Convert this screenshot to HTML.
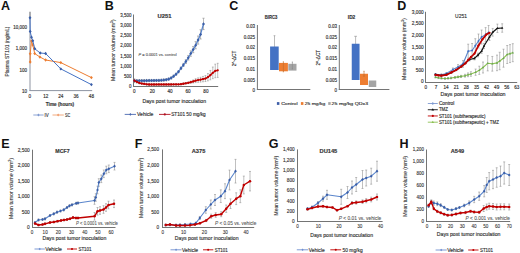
<!DOCTYPE html>
<html><head><meta charset="utf-8"><style>
html,body{margin:0;padding:0;background:#fff;}
body{width:520px;height:253px;overflow:hidden;}
svg{display:block;font-family:"Liberation Sans",sans-serif;}
</style></head><body>
<svg width="520" height="253" viewBox="0 0 520 253" fill="#333333">
<rect width="520" height="253" fill="#fff"/>
<text x="1.09" y="9.8" font-size="12.5" font-weight="bold" fill="#111">A</text>
<line x1="30" y1="11.8" x2="30" y2="91" stroke="#8e94a2" stroke-width="1"/>
<line x1="29.5" y1="90.6" x2="92.2" y2="90.6" stroke="#8e94a2" stroke-width="1"/>
<text x="13.24" y="29.23" font-size="4.5" stroke="#333333" stroke-width="0.15">10,000</text>
<text x="15.74" y="50.44" font-size="4.5" stroke="#333333" stroke-width="0.15">1,000</text>
<text x="19.49" y="71.53" font-size="4.5" stroke="#333333" stroke-width="0.15">100</text>
<text x="21.99" y="92.64" font-size="4.5" stroke="#333333" stroke-width="0.15">10</text>
<text x="28.52" y="98.18" font-size="4.6" stroke="#333333" stroke-width="0.15">0</text>
<text x="43.24" y="98.18" font-size="4.6" stroke="#333333" stroke-width="0.15">12</text>
<text x="58.14" y="98.18" font-size="4.6" stroke="#333333" stroke-width="0.15">24</text>
<text x="73.54" y="98.18" font-size="4.6" stroke="#333333" stroke-width="0.15">36</text>
<text x="88.84" y="98.18" font-size="4.6" stroke="#333333" stroke-width="0.15">48</text>
<text x="45.8" y="106.35" font-size="5" textLength="28.4" lengthAdjust="spacingAndGlyphs" font-weight="bold" stroke="#333333" stroke-width="0.15">Time (hours)</text>
<text x="-25" y="1.69" font-size="4.7" textLength="50" lengthAdjust="spacingAndGlyphs" stroke="#333333" stroke-width="0.12" transform="translate(6.8 51.5) rotate(-90)">Plasma ST101 (ng/mL)</text>
<line x1="30" y1="11.8" x2="30" y2="17.8" stroke="#8c8c8c" stroke-width="0.9"/>
<polyline points="30.2,62 30.2,53.7 31.5,41 32.8,45 34.7,53.5 39.9,57 45.6,60 60.8,62.6 91.4,77.6" fill="none" stroke="#ed7d31" stroke-width="1" stroke-linejoin="round"/>
<path d="M30.2 60.31l1.43 1.69l-1.43 1.69l-1.43 -1.69z" fill="#ed7d31"/>
<path d="M30.2 52.01l1.43 1.69l-1.43 1.69l-1.43 -1.69z" fill="#ed7d31"/>
<path d="M31.5 39.31l1.43 1.69l-1.43 1.69l-1.43 -1.69z" fill="#ed7d31"/>
<path d="M32.8 43.31l1.43 1.69l-1.43 1.69l-1.43 -1.69z" fill="#ed7d31"/>
<path d="M34.7 51.81l1.43 1.69l-1.43 1.69l-1.43 -1.69z" fill="#ed7d31"/>
<path d="M39.9 55.31l1.43 1.69l-1.43 1.69l-1.43 -1.69z" fill="#ed7d31"/>
<path d="M45.6 58.31l1.43 1.69l-1.43 1.69l-1.43 -1.69z" fill="#ed7d31"/>
<path d="M60.8 60.91l1.43 1.69l-1.43 1.69l-1.43 -1.69z" fill="#ed7d31"/>
<path d="M91.4 75.91l1.43 1.69l-1.43 1.69l-1.43 -1.69z" fill="#ed7d31"/>
<polyline points="30,17.8 30.2,31.5 31.5,37.3 32.8,40.8 34.8,48.8 40.2,53 45.6,53.5 60.8,68.9 91.4,84.6" fill="none" stroke="#4472c4" stroke-width="1" stroke-linejoin="round"/>
<path d="M30 16.11l1.43 1.69l-1.43 1.69l-1.43 -1.69z" fill="#3a5ea8"/>
<path d="M30.2 29.81l1.43 1.69l-1.43 1.69l-1.43 -1.69z" fill="#3a5ea8"/>
<path d="M31.5 35.61l1.43 1.69l-1.43 1.69l-1.43 -1.69z" fill="#3a5ea8"/>
<path d="M32.8 39.11l1.43 1.69l-1.43 1.69l-1.43 -1.69z" fill="#3a5ea8"/>
<path d="M34.8 47.11l1.43 1.69l-1.43 1.69l-1.43 -1.69z" fill="#3a5ea8"/>
<path d="M40.2 51.31l1.43 1.69l-1.43 1.69l-1.43 -1.69z" fill="#3a5ea8"/>
<path d="M45.6 51.81l1.43 1.69l-1.43 1.69l-1.43 -1.69z" fill="#3a5ea8"/>
<path d="M60.8 67.21l1.43 1.69l-1.43 1.69l-1.43 -1.69z" fill="#3a5ea8"/>
<path d="M91.4 82.91l1.43 1.69l-1.43 1.69l-1.43 -1.69z" fill="#3a5ea8"/>
<line x1="33.3" y1="115" x2="43.6" y2="115" stroke="#7f9ad0" stroke-width="0.9"/>
<path d="M38.45 113.57l1.21 1.43l-1.21 1.43l-1.21 -1.43z" fill="#7f9ad0"/>
<text x="44.6" y="117.06" font-size="4.8" textLength="4.2" lengthAdjust="spacingAndGlyphs" stroke="#333333" stroke-width="0.15">IV</text>
<line x1="52.5" y1="115" x2="63.8" y2="115" stroke="#f0a070" stroke-width="0.9"/>
<path d="M58.15 113.57l1.21 1.43l-1.21 1.43l-1.21 -1.43z" fill="#f0a070"/>
<text x="65" y="117.06" font-size="4.8" textLength="5.2" lengthAdjust="spacingAndGlyphs" stroke="#333333" stroke-width="0.15">SC</text>
<text x="104.76" y="9.8" font-size="12.5" font-weight="bold" fill="#111">B</text>
<line x1="133.5" y1="14.5" x2="133.5" y2="87" stroke="#747474" stroke-width="1"/>
<line x1="133" y1="86.5" x2="218.2" y2="86.5" stroke="#747474" stroke-width="1"/>
<text x="129.03" y="88.21" font-size="4.45" stroke="#333333" stroke-width="0.15">0</text>
<text x="124.08" y="77.98" font-size="4.45" stroke="#333333" stroke-width="0.15">500</text>
<text x="120.36" y="67.76" font-size="4.45" stroke="#333333" stroke-width="0.15">1,000</text>
<text x="120.36" y="57.53" font-size="4.45" stroke="#333333" stroke-width="0.15">1,500</text>
<text x="120.36" y="47.3" font-size="4.45" stroke="#333333" stroke-width="0.15">2,000</text>
<text x="120.36" y="37.07" font-size="4.45" stroke="#333333" stroke-width="0.15">2,500</text>
<text x="120.36" y="26.84" font-size="4.45" stroke="#333333" stroke-width="0.15">3,000</text>
<text x="120.36" y="16.61" font-size="4.45" stroke="#333333" stroke-width="0.15">3,500</text>
<text x="133.02" y="93.28" font-size="4.6" stroke="#333333" stroke-width="0.15">0</text>
<text x="149.64" y="93.28" font-size="4.6" stroke="#333333" stroke-width="0.15">20</text>
<text x="167.54" y="93.28" font-size="4.6" stroke="#333333" stroke-width="0.15">40</text>
<text x="185.44" y="93.28" font-size="4.6" stroke="#333333" stroke-width="0.15">60</text>
<text x="203.34" y="93.28" font-size="4.6" stroke="#333333" stroke-width="0.15">80</text>
<text x="142.55" y="102.99" font-size="5.1" textLength="63.5" lengthAdjust="spacingAndGlyphs" stroke="#333333" stroke-width="0.15">Days post tumor inoculation</text>
<text x="-30.75" y="1.8" font-size="5" textLength="61.5" lengthAdjust="spacingAndGlyphs" stroke="#333333" stroke-width="0.1" transform="translate(112.8 50.2) rotate(-90)">Mean tumor volume (mm<tspan font-size="0.6em" dy="-1.7">3</tspan><tspan dy="1.7">)</tspan></text>
<text x="157.55" y="18.31" font-size="5.6" textLength="13.9" lengthAdjust="spacingAndGlyphs" font-weight="bold" stroke="#333333" stroke-width="0.15">U251</text>
<text x="138.6" y="56.13" font-size="3.8" textLength="38" lengthAdjust="spacingAndGlyphs" fill="#555555" stroke="#555555" stroke-width="0.1"><tspan font-style="italic">P</tspan> = 0.0001 vs. control</text>
<path d="M134.4 79.7V81.7M133.3 79.7h2.2M133.3 81.7h2.2" stroke="#8c8c8c" stroke-width="0.6" fill="none"/>
<path d="M136.85 79.68V81.68M135.75 79.68h2.2M135.75 81.68h2.2" stroke="#8c8c8c" stroke-width="0.6" fill="none"/>
<path d="M139.3 79.67V81.67M138.2 79.67h2.2M138.2 81.67h2.2" stroke="#8c8c8c" stroke-width="0.6" fill="none"/>
<path d="M141.75 79.65V81.65M140.65 79.65h2.2M140.65 81.65h2.2" stroke="#8c8c8c" stroke-width="0.6" fill="none"/>
<path d="M144.2 79.64V81.64M143.1 79.64h2.2M143.1 81.64h2.2" stroke="#8c8c8c" stroke-width="0.6" fill="none"/>
<path d="M146.65 79.62V81.62M145.55 79.62h2.2M145.55 81.62h2.2" stroke="#8c8c8c" stroke-width="0.6" fill="none"/>
<path d="M149.1 79.61V81.61M148 79.61h2.2M148 81.61h2.2" stroke="#8c8c8c" stroke-width="0.6" fill="none"/>
<path d="M151.55 79.57V81.57M150.45 79.57h2.2M150.45 81.57h2.2" stroke="#8c8c8c" stroke-width="0.6" fill="none"/>
<path d="M154 79.52V81.52M152.9 79.52h2.2M152.9 81.52h2.2" stroke="#8c8c8c" stroke-width="0.6" fill="none"/>
<path d="M156.45 79.47V81.47M155.35 79.47h2.2M155.35 81.47h2.2" stroke="#8c8c8c" stroke-width="0.6" fill="none"/>
<path d="M158.9 79.42V81.42M157.8 79.42h2.2M157.8 81.42h2.2" stroke="#8c8c8c" stroke-width="0.6" fill="none"/>
<path d="M161.35 79.29V81.29M160.25 79.29h2.2M160.25 81.29h2.2" stroke="#8c8c8c" stroke-width="0.6" fill="none"/>
<path d="M163.8 79.1V81.1M162.7 79.1h2.2M162.7 81.1h2.2" stroke="#8c8c8c" stroke-width="0.6" fill="none"/>
<path d="M166.25 78.7V80.7M165.15 78.7h2.2M165.15 80.7h2.2" stroke="#8c8c8c" stroke-width="0.6" fill="none"/>
<path d="M168.7 78.11V80.11M167.6 78.11h2.2M167.6 80.11h2.2" stroke="#8c8c8c" stroke-width="0.6" fill="none"/>
<path d="M171.15 76.95V78.95M170.05 76.95h2.2M170.05 78.95h2.2" stroke="#8c8c8c" stroke-width="0.6" fill="none"/>
<path d="M173.6 75.13V77.13M172.5 75.13h2.2M172.5 77.13h2.2" stroke="#8c8c8c" stroke-width="0.6" fill="none"/>
<path d="M176.05 73.24V75.24M174.95 73.24h2.2M174.95 75.24h2.2" stroke="#8c8c8c" stroke-width="0.6" fill="none"/>
<path d="M178.5 70.72V72.72M177.4 70.72h2.2M177.4 72.72h2.2" stroke="#8c8c8c" stroke-width="0.6" fill="none"/>
<path d="M180.95 67.1V69.57M179.85 67.1h2.2M179.85 69.57h2.2" stroke="#8c8c8c" stroke-width="0.6" fill="none"/>
<path d="M183.4 63.36V66.51M182.3 63.36h2.2M182.3 66.51h2.2" stroke="#8c8c8c" stroke-width="0.6" fill="none"/>
<path d="M185.85 59.7V63.52M184.75 59.7h2.2M184.75 63.52h2.2" stroke="#8c8c8c" stroke-width="0.6" fill="none"/>
<path d="M188.3 55.44V60.04M187.2 55.44h2.2M187.2 60.04h2.2" stroke="#8c8c8c" stroke-width="0.6" fill="none"/>
<path d="M190.75 50.87V56.3M189.65 50.87h2.2M189.65 56.3h2.2" stroke="#8c8c8c" stroke-width="0.6" fill="none"/>
<path d="M193.2 46.47V52.69M192.1 46.47h2.2M192.1 52.69h2.2" stroke="#8c8c8c" stroke-width="0.6" fill="none"/>
<path d="M195.65 41.65V48.75M194.55 41.65h2.2M194.55 48.75h2.2" stroke="#8c8c8c" stroke-width="0.6" fill="none"/>
<path d="M198.1 36.02V44.14M197 36.02h2.2M197 44.14h2.2" stroke="#8c8c8c" stroke-width="0.6" fill="none"/>
<path d="M200.55 29.74V39.01M199.45 29.74h2.2M199.45 39.01h2.2" stroke="#8c8c8c" stroke-width="0.6" fill="none"/>
<path d="M203.5 18.22V29.58M202.4 18.22h2.2M202.4 29.58h2.2" stroke="#8c8c8c" stroke-width="0.6" fill="none"/>
<path d="M134.4 78.8V82.6M133.5 78.8h1.8M133.5 82.6h1.8" stroke="#8c8c8c" stroke-width="0.55" fill="none"/>
<path d="M136.85 80.51V83.17M135.95 80.51h1.8M135.95 83.17h1.8" stroke="#8c8c8c" stroke-width="0.55" fill="none"/>
<path d="M139.3 82.18V83.78M138.4 82.18h1.8M138.4 83.78h1.8" stroke="#8c8c8c" stroke-width="0.55" fill="none"/>
<path d="M141.75 82.76V84.36M140.85 82.76h1.8M140.85 84.36h1.8" stroke="#8c8c8c" stroke-width="0.55" fill="none"/>
<path d="M144.2 83.13V84.73M143.3 83.13h1.8M143.3 84.73h1.8" stroke="#8c8c8c" stroke-width="0.55" fill="none"/>
<path d="M146.65 83.5V85.1M145.75 83.5h1.8M145.75 85.1h1.8" stroke="#8c8c8c" stroke-width="0.55" fill="none"/>
<path d="M149.1 83.7V85.3M148.2 83.7h1.8M148.2 85.3h1.8" stroke="#8c8c8c" stroke-width="0.55" fill="none"/>
<path d="M151.55 83.69V85.29M150.65 83.69h1.8M150.65 85.29h1.8" stroke="#8c8c8c" stroke-width="0.55" fill="none"/>
<path d="M154 83.68V85.28M153.1 83.68h1.8M153.1 85.28h1.8" stroke="#8c8c8c" stroke-width="0.55" fill="none"/>
<path d="M156.45 83.67V85.27M155.55 83.67h1.8M155.55 85.27h1.8" stroke="#8c8c8c" stroke-width="0.55" fill="none"/>
<path d="M158.9 83.67V85.27M158 83.67h1.8M158 85.27h1.8" stroke="#8c8c8c" stroke-width="0.55" fill="none"/>
<path d="M161.35 83.66V85.26M160.45 83.66h1.8M160.45 85.26h1.8" stroke="#8c8c8c" stroke-width="0.55" fill="none"/>
<path d="M163.8 83.65V85.25M162.9 83.65h1.8M162.9 85.25h1.8" stroke="#8c8c8c" stroke-width="0.55" fill="none"/>
<path d="M166.25 83.64V85.24M165.35 83.64h1.8M165.35 85.24h1.8" stroke="#8c8c8c" stroke-width="0.55" fill="none"/>
<path d="M168.7 83.64V85.24M167.8 83.64h1.8M167.8 85.24h1.8" stroke="#8c8c8c" stroke-width="0.55" fill="none"/>
<path d="M171.15 83.63V85.23M170.25 83.63h1.8M170.25 85.23h1.8" stroke="#8c8c8c" stroke-width="0.55" fill="none"/>
<path d="M173.6 83.62V85.22M172.7 83.62h1.8M172.7 85.22h1.8" stroke="#8c8c8c" stroke-width="0.55" fill="none"/>
<path d="M176.05 83.61V85.21M175.15 83.61h1.8M175.15 85.21h1.8" stroke="#8c8c8c" stroke-width="0.55" fill="none"/>
<path d="M178.5 83.6V85.2M177.6 83.6h1.8M177.6 85.2h1.8" stroke="#8c8c8c" stroke-width="0.55" fill="none"/>
<path d="M180.95 83.42V85.02M180.05 83.42h1.8M180.05 85.02h1.8" stroke="#8c8c8c" stroke-width="0.55" fill="none"/>
<path d="M183.4 82.97V84.57M182.5 82.97h1.8M182.5 84.57h1.8" stroke="#8c8c8c" stroke-width="0.55" fill="none"/>
<path d="M185.85 82.51V84.11M184.95 82.51h1.8M184.95 84.11h1.8" stroke="#8c8c8c" stroke-width="0.55" fill="none"/>
<path d="M188.3 81.93V83.64M187.4 81.93h1.8M187.4 83.64h1.8" stroke="#8c8c8c" stroke-width="0.55" fill="none"/>
<path d="M190.75 81.05V83.35M189.85 81.05h1.8M189.85 83.35h1.8" stroke="#8c8c8c" stroke-width="0.55" fill="none"/>
<path d="M193.2 79.95V82.98M192.3 79.95h1.8M192.3 82.98h1.8" stroke="#8c8c8c" stroke-width="0.55" fill="none"/>
<path d="M195.65 78.73V82.58M194.75 78.73h1.8M194.75 82.58h1.8" stroke="#8c8c8c" stroke-width="0.55" fill="none"/>
<path d="M198.1 77.91V82.3M197.2 77.91h1.8M197.2 82.3h1.8" stroke="#8c8c8c" stroke-width="0.55" fill="none"/>
<path d="M200.55 77.27V82.09M199.65 77.27h1.8M199.65 82.09h1.8" stroke="#8c8c8c" stroke-width="0.55" fill="none"/>
<path d="M203 76.43V81.81M202.1 76.43h1.8M202.1 81.81h1.8" stroke="#8c8c8c" stroke-width="0.55" fill="none"/>
<path d="M205.45 75.55V81.52M204.55 75.55h1.8M204.55 81.52h1.8" stroke="#8c8c8c" stroke-width="0.55" fill="none"/>
<path d="M207.9 73.54V80.85M207 73.54h1.8M207 80.85h1.8" stroke="#8c8c8c" stroke-width="0.55" fill="none"/>
<path d="M210.35 70.47V79.82M209.45 70.47h1.8M209.45 79.82h1.8" stroke="#8c8c8c" stroke-width="0.55" fill="none"/>
<path d="M212.8 67V78.67M211.9 67h1.8M211.9 78.67h1.8" stroke="#8c8c8c" stroke-width="0.55" fill="none"/>
<path d="M215.25 64.16V77.72M214.35 64.16h1.8M214.35 77.72h1.8" stroke="#8c8c8c" stroke-width="0.55" fill="none"/>
<path d="M217.7 63.3V77.44M216.8 63.3h1.8M216.8 77.44h1.8" stroke="#8c8c8c" stroke-width="0.55" fill="none"/>
<polyline points="134.4,80.7 136.85,80.68 139.3,80.67 141.75,80.65 144.2,80.64 146.65,80.62 149.1,80.61 151.55,80.57 154,80.52 156.45,80.47 158.9,80.42 161.35,80.29 163.8,80.1 166.25,79.7 168.7,79.11 171.15,77.95 173.6,76.13 176.05,74.24 178.5,71.72 180.95,68.34 183.4,64.93 185.85,61.61 188.3,57.74 190.75,53.58 193.2,49.58 195.65,45.2 198.1,40.08 200.55,34.37 203.5,23.9" fill="none" stroke="#5b86cc" stroke-width="1.3" stroke-linejoin="round"/>
<path d="M134.4 78.95l1.49 1.76l-1.49 1.76l-1.49 -1.76z" fill="#3a5ea8"/>
<path d="M136.85 78.93l1.49 1.76l-1.49 1.76l-1.49 -1.76z" fill="#3a5ea8"/>
<path d="M139.3 78.91l1.49 1.76l-1.49 1.76l-1.49 -1.76z" fill="#3a5ea8"/>
<path d="M141.75 78.9l1.49 1.76l-1.49 1.76l-1.49 -1.76z" fill="#3a5ea8"/>
<path d="M144.2 78.88l1.49 1.76l-1.49 1.76l-1.49 -1.76z" fill="#3a5ea8"/>
<path d="M146.65 78.87l1.49 1.76l-1.49 1.76l-1.49 -1.76z" fill="#3a5ea8"/>
<path d="M149.1 78.85l1.49 1.76l-1.49 1.76l-1.49 -1.76z" fill="#3a5ea8"/>
<path d="M151.55 78.81l1.49 1.76l-1.49 1.76l-1.49 -1.76z" fill="#3a5ea8"/>
<path d="M154 78.77l1.49 1.76l-1.49 1.76l-1.49 -1.76z" fill="#3a5ea8"/>
<path d="M156.45 78.72l1.49 1.76l-1.49 1.76l-1.49 -1.76z" fill="#3a5ea8"/>
<path d="M158.9 78.67l1.49 1.76l-1.49 1.76l-1.49 -1.76z" fill="#3a5ea8"/>
<path d="M161.35 78.54l1.49 1.76l-1.49 1.76l-1.49 -1.76z" fill="#3a5ea8"/>
<path d="M163.8 78.34l1.49 1.76l-1.49 1.76l-1.49 -1.76z" fill="#3a5ea8"/>
<path d="M166.25 77.95l1.49 1.76l-1.49 1.76l-1.49 -1.76z" fill="#3a5ea8"/>
<path d="M168.7 77.36l1.49 1.76l-1.49 1.76l-1.49 -1.76z" fill="#3a5ea8"/>
<path d="M171.15 76.19l1.49 1.76l-1.49 1.76l-1.49 -1.76z" fill="#3a5ea8"/>
<path d="M173.6 74.38l1.49 1.76l-1.49 1.76l-1.49 -1.76z" fill="#3a5ea8"/>
<path d="M176.05 72.49l1.49 1.76l-1.49 1.76l-1.49 -1.76z" fill="#3a5ea8"/>
<path d="M178.5 69.96l1.49 1.76l-1.49 1.76l-1.49 -1.76z" fill="#3a5ea8"/>
<path d="M180.95 66.58l1.49 1.76l-1.49 1.76l-1.49 -1.76z" fill="#3a5ea8"/>
<path d="M183.4 63.18l1.49 1.76l-1.49 1.76l-1.49 -1.76z" fill="#3a5ea8"/>
<path d="M185.85 59.85l1.49 1.76l-1.49 1.76l-1.49 -1.76z" fill="#3a5ea8"/>
<path d="M188.3 55.98l1.49 1.76l-1.49 1.76l-1.49 -1.76z" fill="#3a5ea8"/>
<path d="M190.75 51.83l1.49 1.76l-1.49 1.76l-1.49 -1.76z" fill="#3a5ea8"/>
<path d="M193.2 47.82l1.49 1.76l-1.49 1.76l-1.49 -1.76z" fill="#3a5ea8"/>
<path d="M195.65 43.44l1.49 1.76l-1.49 1.76l-1.49 -1.76z" fill="#3a5ea8"/>
<path d="M198.1 38.32l1.49 1.76l-1.49 1.76l-1.49 -1.76z" fill="#3a5ea8"/>
<path d="M200.55 32.62l1.49 1.76l-1.49 1.76l-1.49 -1.76z" fill="#3a5ea8"/>
<path d="M203.5 22.14l1.49 1.76l-1.49 1.76l-1.49 -1.76z" fill="#3a5ea8"/>
<polyline points="134.4,80.7 136.85,81.84 139.3,82.98 141.75,83.56 144.2,83.93 146.65,84.3 149.1,84.5 151.55,84.49 154,84.48 156.45,84.47 158.9,84.47 161.35,84.46 163.8,84.45 166.25,84.44 168.7,84.44 171.15,84.43 173.6,84.42 176.05,84.41 178.5,84.4 180.95,84.22 183.4,83.77 185.85,83.31 188.3,82.79 190.75,82.2 193.2,81.47 195.65,80.65 198.1,80.1 200.55,79.68 203,79.12 205.45,78.53 207.9,77.2 210.35,75.15 212.8,72.83 215.25,70.94 217.7,70.37" fill="none" stroke="#c00000" stroke-width="1.4" stroke-linejoin="round"/>
<circle cx="134.4" cy="80.7" r="1.15" fill="#c00000"/>
<circle cx="136.85" cy="81.84" r="1.15" fill="#c00000"/>
<circle cx="139.3" cy="82.98" r="1.15" fill="#c00000"/>
<circle cx="141.75" cy="83.56" r="1.15" fill="#c00000"/>
<circle cx="144.2" cy="83.93" r="1.15" fill="#c00000"/>
<circle cx="146.65" cy="84.3" r="1.15" fill="#c00000"/>
<circle cx="149.1" cy="84.5" r="1.15" fill="#c00000"/>
<circle cx="151.55" cy="84.49" r="1.15" fill="#c00000"/>
<circle cx="154" cy="84.48" r="1.15" fill="#c00000"/>
<circle cx="156.45" cy="84.47" r="1.15" fill="#c00000"/>
<circle cx="158.9" cy="84.47" r="1.15" fill="#c00000"/>
<circle cx="161.35" cy="84.46" r="1.15" fill="#c00000"/>
<circle cx="163.8" cy="84.45" r="1.15" fill="#c00000"/>
<circle cx="166.25" cy="84.44" r="1.15" fill="#c00000"/>
<circle cx="168.7" cy="84.44" r="1.15" fill="#c00000"/>
<circle cx="171.15" cy="84.43" r="1.15" fill="#c00000"/>
<circle cx="173.6" cy="84.42" r="1.15" fill="#c00000"/>
<circle cx="176.05" cy="84.41" r="1.15" fill="#c00000"/>
<circle cx="178.5" cy="84.4" r="1.15" fill="#c00000"/>
<circle cx="180.95" cy="84.22" r="1.15" fill="#c00000"/>
<circle cx="183.4" cy="83.77" r="1.15" fill="#c00000"/>
<circle cx="185.85" cy="83.31" r="1.15" fill="#c00000"/>
<circle cx="188.3" cy="82.79" r="1.15" fill="#c00000"/>
<circle cx="190.75" cy="82.2" r="1.15" fill="#c00000"/>
<circle cx="193.2" cy="81.47" r="1.15" fill="#c00000"/>
<circle cx="195.65" cy="80.65" r="1.15" fill="#c00000"/>
<circle cx="198.1" cy="80.1" r="1.15" fill="#c00000"/>
<circle cx="200.55" cy="79.68" r="1.15" fill="#c00000"/>
<circle cx="203" cy="79.12" r="1.15" fill="#c00000"/>
<circle cx="205.45" cy="78.53" r="1.15" fill="#c00000"/>
<circle cx="207.9" cy="77.2" r="1.15" fill="#c00000"/>
<circle cx="210.35" cy="75.15" r="1.15" fill="#c00000"/>
<circle cx="212.8" cy="72.83" r="1.15" fill="#c00000"/>
<circle cx="215.25" cy="70.94" r="1.15" fill="#c00000"/>
<circle cx="217.7" cy="70.37" r="1.15" fill="#c00000"/>
<line x1="124.7" y1="114.4" x2="136" y2="114.4" stroke="#4a68b0" stroke-width="0.9"/>
<path d="M130.35 112.97l1.21 1.43l-1.21 1.43l-1.21 -1.43z" fill="#4a68b0"/>
<text x="137" y="115.91" font-size="4.9" textLength="16.4" lengthAdjust="spacingAndGlyphs" stroke="#333333" stroke-width="0.15">Vehicle</text>
<line x1="159" y1="114.4" x2="170.6" y2="114.4" stroke="#b01020" stroke-width="0.9"/>
<circle cx="164.8" cy="114.4" r="1.1" fill="#b01020"/>
<text x="171.2" y="115.91" font-size="4.9" textLength="34.5" lengthAdjust="spacingAndGlyphs" stroke="#333333" stroke-width="0.15">ST101 50 mg/kg</text>
<text x="229.29" y="9.8" font-size="12.5" font-weight="bold" fill="#111">C</text>
<line x1="257.4" y1="25" x2="257.4" y2="90" stroke="#747474" stroke-width="1"/>
<line x1="256.9" y1="89.5" x2="310.3" y2="89.5" stroke="#747474" stroke-width="1"/>
<text x="252.6" y="92.44" font-size="4.5" stroke="#333333" stroke-width="0.15">0</text>
<text x="243.84" y="81.67" font-size="4.5" stroke="#333333" stroke-width="0.15">0.005</text>
<text x="246.34" y="70.9" font-size="4.5" stroke="#333333" stroke-width="0.15">0.01</text>
<text x="243.84" y="60.14" font-size="4.5" stroke="#333333" stroke-width="0.15">0.015</text>
<text x="246.34" y="49.37" font-size="4.5" stroke="#333333" stroke-width="0.15">0.02</text>
<text x="243.84" y="38.6" font-size="4.5" stroke="#333333" stroke-width="0.15">0.025</text>
<text x="246.34" y="27.84" font-size="4.5" stroke="#333333" stroke-width="0.15">0.03</text>
<text x="264.8" y="19.08" font-size="4.6" textLength="12.4" lengthAdjust="spacingAndGlyphs" font-weight="bold" stroke="#333333" stroke-width="0.15">BIRC3</text>
<text x="-7.75" y="1.66" font-size="4.6" textLength="15.5" lengthAdjust="spacingAndGlyphs" stroke="#333333" stroke-width="0.15" transform="translate(234.5 58.5) rotate(-90)">2^-&#916;CT</text>
<line x1="339.3" y1="25" x2="339.3" y2="90" stroke="#747474" stroke-width="1"/>
<line x1="338.8" y1="89.5" x2="389.4" y2="89.5" stroke="#747474" stroke-width="1"/>
<text x="334.5" y="92.44" font-size="4.5" stroke="#333333" stroke-width="0.15">0</text>
<text x="325.74" y="81.67" font-size="4.5" stroke="#333333" stroke-width="0.15">0.005</text>
<text x="328.24" y="70.9" font-size="4.5" stroke="#333333" stroke-width="0.15">0.01</text>
<text x="325.74" y="60.14" font-size="4.5" stroke="#333333" stroke-width="0.15">0.015</text>
<text x="328.24" y="49.37" font-size="4.5" stroke="#333333" stroke-width="0.15">0.02</text>
<text x="325.74" y="38.6" font-size="4.5" stroke="#333333" stroke-width="0.15">0.025</text>
<text x="328.24" y="27.84" font-size="4.5" stroke="#333333" stroke-width="0.15">0.03</text>
<text x="347.8" y="19.08" font-size="4.6" textLength="7.5" lengthAdjust="spacingAndGlyphs" font-weight="bold" stroke="#333333" stroke-width="0.15">ID2</text>
<text x="-7.75" y="1.66" font-size="4.6" textLength="15.5" lengthAdjust="spacingAndGlyphs" stroke="#333333" stroke-width="0.15" transform="translate(318.3 57.7) rotate(-90)">2^-&#916;CT</text>
<path d="M274.5 35.7V57.3M273.6 35.7h1.8M273.6 57.3h1.8" stroke="#8c8c8c" stroke-width="0.6" fill="none"/>
<rect x="270.1" y="46.5" width="8.6" height="23.5" fill="#4472c4"/>
<rect x="279" y="62.9" width="8.9" height="8.4" fill="#ed7d31"/>
<rect x="288.3" y="63.8" width="8.2" height="6.8" fill="#a5a5a5"/>
<path d="M283.4 61.8V71.8M282.8 61.8h1.2M282.8 71.8h1.2" stroke="#b86a2a" stroke-width="0.6" fill="none"/>
<path d="M292.4 62V69M291.8 62h1.2M291.8 69h1.2" stroke="#888888" stroke-width="0.6" fill="none"/>
<path d="M355.6 36.3V51.3M354.2 36.3h2.8M354.2 51.3h2.8" stroke="#8c8c8c" stroke-width="0.6" fill="none"/>
<rect x="351.75" y="43.75" width="7.8" height="36.25" fill="#4472c4"/>
<rect x="360" y="73.75" width="8" height="11.25" fill="#ed7d31"/>
<path d="M364 71.25V76.25M363.4 71.25h1.2M363.4 76.25h1.2" stroke="#b86a2a" stroke-width="0.6" fill="none"/>
<rect x="368.75" y="80.5" width="7.5" height="6.5" fill="#a5a5a5"/>
<rect x="276.9" y="102.1" width="2.5" height="2.8" fill="#3f5fa8"/>
<text x="281.2" y="105.39" font-size="4.4" textLength="16.4" lengthAdjust="spacingAndGlyphs" stroke="#333333" stroke-width="0.15">Control</text>
<rect x="300.9" y="102.1" width="2.5" height="2.8" fill="#ed7d31"/>
<text x="304.8" y="105.39" font-size="4.4" textLength="20.5" lengthAdjust="spacingAndGlyphs" stroke="#333333" stroke-width="0.15">25 mg/kg</text>
<rect x="328.2" y="102.1" width="2.5" height="2.8" fill="#a5a5a5"/>
<text x="331.6" y="105.39" font-size="4.4" textLength="36.5" lengthAdjust="spacingAndGlyphs" stroke="#333333" stroke-width="0.15">25 mg/kg QDx3</text>
<text x="397.26" y="9.8" font-size="12.5" font-weight="bold" fill="#111">D</text>
<line x1="425.5" y1="11.8" x2="425.5" y2="83" stroke="#747474" stroke-width="1"/>
<line x1="425" y1="82.5" x2="517.2" y2="82.5" stroke="#747474" stroke-width="1"/>
<text x="421.06" y="83.24" font-size="4.75" stroke="#333333" stroke-width="0.15">0</text>
<text x="415.77" y="71.69" font-size="4.75" stroke="#333333" stroke-width="0.15">500</text>
<text x="411.81" y="60.14" font-size="4.75" stroke="#333333" stroke-width="0.15">1,000</text>
<text x="411.81" y="48.59" font-size="4.75" stroke="#333333" stroke-width="0.15">1,500</text>
<text x="411.81" y="37.04" font-size="4.75" stroke="#333333" stroke-width="0.15">2,000</text>
<text x="411.81" y="25.49" font-size="4.75" stroke="#333333" stroke-width="0.15">2,500</text>
<text x="411.81" y="13.94" font-size="4.75" stroke="#333333" stroke-width="0.15">3,000</text>
<text x="424.62" y="88.98" font-size="4.6" stroke="#333333" stroke-width="0.15">0</text>
<text x="434.73" y="88.98" font-size="4.6" stroke="#333333" stroke-width="0.15">7</text>
<text x="443.56" y="88.98" font-size="4.6" stroke="#333333" stroke-width="0.15">14</text>
<text x="453.67" y="88.98" font-size="4.6" stroke="#333333" stroke-width="0.15">21</text>
<text x="463.77" y="88.98" font-size="4.6" stroke="#333333" stroke-width="0.15">28</text>
<text x="473.88" y="88.98" font-size="4.6" stroke="#333333" stroke-width="0.15">35</text>
<text x="483.99" y="88.98" font-size="4.6" stroke="#333333" stroke-width="0.15">42</text>
<text x="494.1" y="88.98" font-size="4.6" stroke="#333333" stroke-width="0.15">49</text>
<text x="504.21" y="88.98" font-size="4.6" stroke="#333333" stroke-width="0.15">56</text>
<text x="514.31" y="88.98" font-size="4.6" stroke="#333333" stroke-width="0.15">63</text>
<text x="440.5" y="96.34" font-size="5.2" textLength="65" lengthAdjust="spacingAndGlyphs" stroke="#333333" stroke-width="0.15">Days post tumor inoculation</text>
<text x="-30.8" y="1.8" font-size="5" textLength="61.6" lengthAdjust="spacingAndGlyphs" stroke="#333333" stroke-width="0.1" transform="translate(403.8 49.1) rotate(-90)">Mean tumor volume (mm<tspan font-size="0.6em" dy="-1.7">3</tspan><tspan dy="1.7">)</tspan></text>
<text x="455.1" y="18.18" font-size="5.3" textLength="11.8" lengthAdjust="spacingAndGlyphs" stroke="#333333" stroke-width="0.15">U251</text>
<path d="M435.5 76.4V78M434.5 76.4h2M434.5 78h2" stroke="#8c8c8c" stroke-width="0.55" fill="none"/>
<path d="M438.5 77V78.6M437.5 77h2M437.5 78.6h2" stroke="#8c8c8c" stroke-width="0.55" fill="none"/>
<path d="M441.5 77.5V79.1M440.5 77.5h2M440.5 79.1h2" stroke="#8c8c8c" stroke-width="0.55" fill="none"/>
<path d="M445 77.7V79.3M444 77.7h2M444 79.3h2" stroke="#8c8c8c" stroke-width="0.55" fill="none"/>
<path d="M448 77.5V79.1M447 77.5h2M447 79.1h2" stroke="#8c8c8c" stroke-width="0.55" fill="none"/>
<path d="M451 77.2V78.8M450 77.2h2M450 78.8h2" stroke="#8c8c8c" stroke-width="0.55" fill="none"/>
<path d="M455 76.6V78.2M454 76.6h2M454 78.2h2" stroke="#8c8c8c" stroke-width="0.55" fill="none"/>
<path d="M458 76.1V77.7M457 76.1h2M457 77.7h2" stroke="#8c8c8c" stroke-width="0.55" fill="none"/>
<path d="M461 75.35V77.45M460 75.35h2M460 77.45h2" stroke="#8c8c8c" stroke-width="0.55" fill="none"/>
<path d="M465 74.3V77.1M464 74.3h2M464 77.1h2" stroke="#8c8c8c" stroke-width="0.55" fill="none"/>
<path d="M468 72.95V76.65M467 72.95h2M467 76.65h2" stroke="#8c8c8c" stroke-width="0.55" fill="none"/>
<path d="M470.9 71.75V76.25M469.9 71.75h2M469.9 76.25h2" stroke="#8c8c8c" stroke-width="0.55" fill="none"/>
<path d="M475.6 69.05V75.35M474.6 69.05h2M474.6 75.35h2" stroke="#8c8c8c" stroke-width="0.55" fill="none"/>
<path d="M479.3 66.2V74.4M478.3 66.2h2M478.3 74.4h2" stroke="#8c8c8c" stroke-width="0.55" fill="none"/>
<path d="M483 62V73M482 62h2M482 73h2" stroke="#8c8c8c" stroke-width="0.55" fill="none"/>
<path d="M487.7 55.7V70.9M486.7 55.7h2M486.7 70.9h2" stroke="#8c8c8c" stroke-width="0.55" fill="none"/>
<path d="M492.3 56.45V71.15M491.3 56.45h2M491.3 71.15h2" stroke="#8c8c8c" stroke-width="0.55" fill="none"/>
<path d="M497 55.1V70.7M496 55.1h2M496 70.7h2" stroke="#8c8c8c" stroke-width="0.55" fill="none"/>
<path d="M499.7 52.25V69.75M498.7 52.25h2M498.7 69.75h2" stroke="#8c8c8c" stroke-width="0.55" fill="none"/>
<path d="M503.5 49.2V67.2M502.5 49.2h2M502.5 67.2h2" stroke="#8c8c8c" stroke-width="0.55" fill="none"/>
<path d="M507.2 45.5V63.5M506.2 45.5h2M506.2 63.5h2" stroke="#8c8c8c" stroke-width="0.55" fill="none"/>
<path d="M510 44.6V62.6M509 44.6h2M509 62.6h2" stroke="#8c8c8c" stroke-width="0.55" fill="none"/>
<path d="M512.8 43.7V61.7M511.8 43.7h2M511.8 61.7h2" stroke="#8c8c8c" stroke-width="0.55" fill="none"/>
<path d="M435.5 73.5V75.1M434.5 73.5h2M434.5 75.1h2" stroke="#8c8c8c" stroke-width="0.55" fill="none"/>
<path d="M441.3 74V75.6M440.3 74h2M440.3 75.6h2" stroke="#8c8c8c" stroke-width="0.55" fill="none"/>
<path d="M446.3 72.7V74.3M445.3 72.7h2M445.3 74.3h2" stroke="#8c8c8c" stroke-width="0.55" fill="none"/>
<path d="M452.9 67.98V71.22M451.9 67.98h2M451.9 71.22h2" stroke="#8c8c8c" stroke-width="0.55" fill="none"/>
<path d="M458 64.6V69.4M457 64.6h2M457 69.4h2" stroke="#8c8c8c" stroke-width="0.55" fill="none"/>
<path d="M463 60.44V67.16M462 60.44h2M462 67.16h2" stroke="#8c8c8c" stroke-width="0.55" fill="none"/>
<path d="M468.2 44.2V58.2M467.2 44.2h2M467.2 58.2h2" stroke="#8c8c8c" stroke-width="0.55" fill="none"/>
<path d="M472.1 43.5V57.5M471.1 43.5h2M471.1 57.5h2" stroke="#8c8c8c" stroke-width="0.55" fill="none"/>
<path d="M475.3 38.7V52.7M474.3 38.7h2M474.3 52.7h2" stroke="#8c8c8c" stroke-width="0.55" fill="none"/>
<path d="M478.5 34V48M477.5 34h2M477.5 48h2" stroke="#8c8c8c" stroke-width="0.55" fill="none"/>
<path d="M481.6 30V44M480.6 30h2M480.6 44h2" stroke="#8c8c8c" stroke-width="0.55" fill="none"/>
<path d="M485.6 27.6V41.6M484.6 27.6h2M484.6 41.6h2" stroke="#8c8c8c" stroke-width="0.55" fill="none"/>
<path d="M488.6 25.5V39.5M487.6 25.5h2M487.6 39.5h2" stroke="#8c8c8c" stroke-width="0.55" fill="none"/>
<path d="M435.5 73.7V75.3M434.5 73.7h2M434.5 75.3h2" stroke="#8c8c8c" stroke-width="0.55" fill="none"/>
<path d="M441.3 74.7V76.3M440.3 74.7h2M440.3 76.3h2" stroke="#8c8c8c" stroke-width="0.55" fill="none"/>
<path d="M446.3 73.7V75.3M445.3 73.7h2M445.3 75.3h2" stroke="#8c8c8c" stroke-width="0.55" fill="none"/>
<path d="M451.3 71.7V73.3M450.3 71.7h2M450.3 73.3h2" stroke="#8c8c8c" stroke-width="0.55" fill="none"/>
<path d="M456.2 69.2V70.8M455.2 69.2h2M455.2 70.8h2" stroke="#8c8c8c" stroke-width="0.55" fill="none"/>
<path d="M461.2 65.7V67.3M460.2 65.7h2M460.2 67.3h2" stroke="#8c8c8c" stroke-width="0.55" fill="none"/>
<path d="M465.4 61.92V64.08M464.4 61.92h2M464.4 64.08h2" stroke="#8c8c8c" stroke-width="0.55" fill="none"/>
<path d="M469.5 58.1V60.9M468.5 58.1h2M468.5 60.9h2" stroke="#8c8c8c" stroke-width="0.55" fill="none"/>
<path d="M474.5 56.91V59.89M473.5 56.91h2M473.5 59.89h2" stroke="#8c8c8c" stroke-width="0.55" fill="none"/>
<path d="M478 53.2V56.8M477 53.2h2M477 56.8h2" stroke="#8c8c8c" stroke-width="0.55" fill="none"/>
<path d="M481.6 49.06V53.34M480.6 49.06h2M480.6 53.34h2" stroke="#8c8c8c" stroke-width="0.55" fill="none"/>
<path d="M484 43.39V48.61M483 43.39h2M483 48.61h2" stroke="#8c8c8c" stroke-width="0.55" fill="none"/>
<path d="M489.5 33.58V40.42M488.5 33.58h2M488.5 40.42h2" stroke="#8c8c8c" stroke-width="0.55" fill="none"/>
<path d="M492.7 28.46V36.14M491.7 28.46h2M491.7 36.14h2" stroke="#8c8c8c" stroke-width="0.55" fill="none"/>
<path d="M497.4 24.1V32.5M496.4 24.1h2M496.4 32.5h2" stroke="#8c8c8c" stroke-width="0.55" fill="none"/>
<path d="M502.2 23.77V32.23M501.2 23.77h2M501.2 32.23h2" stroke="#8c8c8c" stroke-width="0.55" fill="none"/>
<polyline points="435.5,77.2 438.5,77.8 441.5,78.3 445,78.5 448,78.3 451,78 455,77.4 458,76.9 461,76.4 465,75.7 468,74.8 470.9,74 475.6,72.2 479.3,70.3 483,67.5 487.7,63.3 492.3,63.8 497,62.9 499.7,61 503.5,58.2 507.2,54.5 510,53.6 512.8,52.7" fill="none" stroke="#8cc152" stroke-width="1.1" stroke-linejoin="round"/>
<path d="M435.5 75.9l1.2 2.1l-2.4 0z" fill="#6aa84f"/>
<path d="M438.5 76.5l1.2 2.1l-2.4 0z" fill="#6aa84f"/>
<path d="M441.5 77l1.2 2.1l-2.4 0z" fill="#6aa84f"/>
<path d="M445 77.2l1.2 2.1l-2.4 0z" fill="#6aa84f"/>
<path d="M448 77l1.2 2.1l-2.4 0z" fill="#6aa84f"/>
<path d="M451 76.7l1.2 2.1l-2.4 0z" fill="#6aa84f"/>
<path d="M455 76.1l1.2 2.1l-2.4 0z" fill="#6aa84f"/>
<path d="M458 75.6l1.2 2.1l-2.4 0z" fill="#6aa84f"/>
<path d="M461 75.1l1.2 2.1l-2.4 0z" fill="#6aa84f"/>
<path d="M465 74.4l1.2 2.1l-2.4 0z" fill="#6aa84f"/>
<path d="M468 73.5l1.2 2.1l-2.4 0z" fill="#6aa84f"/>
<path d="M470.9 72.7l1.2 2.1l-2.4 0z" fill="#6aa84f"/>
<path d="M475.6 70.9l1.2 2.1l-2.4 0z" fill="#6aa84f"/>
<path d="M479.3 69l1.2 2.1l-2.4 0z" fill="#6aa84f"/>
<path d="M483 66.2l1.2 2.1l-2.4 0z" fill="#6aa84f"/>
<path d="M487.7 62l1.2 2.1l-2.4 0z" fill="#6aa84f"/>
<path d="M492.3 62.5l1.2 2.1l-2.4 0z" fill="#6aa84f"/>
<path d="M497 61.6l1.2 2.1l-2.4 0z" fill="#6aa84f"/>
<path d="M499.7 59.7l1.2 2.1l-2.4 0z" fill="#6aa84f"/>
<path d="M503.5 56.9l1.2 2.1l-2.4 0z" fill="#6aa84f"/>
<path d="M507.2 53.2l1.2 2.1l-2.4 0z" fill="#6aa84f"/>
<path d="M510 52.3l1.2 2.1l-2.4 0z" fill="#6aa84f"/>
<path d="M512.8 51.4l1.2 2.1l-2.4 0z" fill="#6aa84f"/>
<polyline points="435.5,74.3 441.3,74.8 446.3,73.5 452.9,69.6 458,67 463,63.8 468.2,51.2 472.1,50.5 475.3,45.7 478.5,41 481.6,37 485.6,34.6 488.6,32.5" fill="none" stroke="#5b86cc" stroke-width="1.1" stroke-linejoin="round"/>
<path d="M435.5 72.94l1.16 1.37l-1.16 1.37l-1.16 -1.37z" fill="#4472c4"/>
<path d="M441.3 73.44l1.16 1.37l-1.16 1.37l-1.16 -1.37z" fill="#4472c4"/>
<path d="M446.3 72.14l1.16 1.37l-1.16 1.37l-1.16 -1.37z" fill="#4472c4"/>
<path d="M452.9 68.23l1.16 1.37l-1.16 1.37l-1.16 -1.37z" fill="#4472c4"/>
<path d="M458 65.64l1.16 1.37l-1.16 1.37l-1.16 -1.37z" fill="#4472c4"/>
<path d="M463 62.43l1.16 1.37l-1.16 1.37l-1.16 -1.37z" fill="#4472c4"/>
<path d="M468.2 49.84l1.16 1.37l-1.16 1.37l-1.16 -1.37z" fill="#4472c4"/>
<path d="M472.1 49.13l1.16 1.37l-1.16 1.37l-1.16 -1.37z" fill="#4472c4"/>
<path d="M475.3 44.34l1.16 1.37l-1.16 1.37l-1.16 -1.37z" fill="#4472c4"/>
<path d="M478.5 39.63l1.16 1.37l-1.16 1.37l-1.16 -1.37z" fill="#4472c4"/>
<path d="M481.6 35.63l1.16 1.37l-1.16 1.37l-1.16 -1.37z" fill="#4472c4"/>
<path d="M485.6 33.23l1.16 1.37l-1.16 1.37l-1.16 -1.37z" fill="#4472c4"/>
<path d="M488.6 31.13l1.16 1.37l-1.16 1.37l-1.16 -1.37z" fill="#4472c4"/>
<polyline points="435.5,74.5 441.3,75.5 446.3,74.5 451.3,72.5 456.2,70 461.2,66.5 465.4,63 469.5,59.5 474.5,58.4 478,55 481.6,51.2 484,46 489.5,37 492.7,32.3 497.4,28.3 502.2,28" fill="none" stroke="#111111" stroke-width="1.2" stroke-linejoin="round"/>
<path d="M435.5 73.2l1.2 2.1l-2.4 0z" fill="#111111"/>
<path d="M441.3 74.2l1.2 2.1l-2.4 0z" fill="#111111"/>
<path d="M446.3 73.2l1.2 2.1l-2.4 0z" fill="#111111"/>
<path d="M451.3 71.2l1.2 2.1l-2.4 0z" fill="#111111"/>
<path d="M456.2 68.7l1.2 2.1l-2.4 0z" fill="#111111"/>
<path d="M461.2 65.2l1.2 2.1l-2.4 0z" fill="#111111"/>
<path d="M465.4 61.7l1.2 2.1l-2.4 0z" fill="#111111"/>
<path d="M469.5 58.2l1.2 2.1l-2.4 0z" fill="#111111"/>
<path d="M474.5 57.1l1.2 2.1l-2.4 0z" fill="#111111"/>
<path d="M478 53.7l1.2 2.1l-2.4 0z" fill="#111111"/>
<path d="M481.6 49.9l1.2 2.1l-2.4 0z" fill="#111111"/>
<path d="M484 44.7l1.2 2.1l-2.4 0z" fill="#111111"/>
<path d="M489.5 35.7l1.2 2.1l-2.4 0z" fill="#111111"/>
<path d="M492.7 31l1.2 2.1l-2.4 0z" fill="#111111"/>
<path d="M497.4 27l1.2 2.1l-2.4 0z" fill="#111111"/>
<path d="M502.2 26.7l1.2 2.1l-2.4 0z" fill="#111111"/>
<polyline points="435.5,74.9 438.5,75.4 441.3,75.7 446.3,74.9 451.3,72.4 456.2,69.9 461.2,66.6 465.4,63.3 468.2,60 471,57 474.5,53.6 478.4,45.7 482.4,39.4 486.3,34.6 489.5,32.8" fill="none" stroke="#c00000" stroke-width="1.7" stroke-linejoin="round"/>
<circle cx="435.5" cy="74.9" r="1.15" fill="#c00000"/>
<circle cx="438.5" cy="75.4" r="1.15" fill="#c00000"/>
<circle cx="441.3" cy="75.7" r="1.15" fill="#c00000"/>
<circle cx="446.3" cy="74.9" r="1.15" fill="#c00000"/>
<circle cx="451.3" cy="72.4" r="1.15" fill="#c00000"/>
<circle cx="456.2" cy="69.9" r="1.15" fill="#c00000"/>
<circle cx="461.2" cy="66.6" r="1.15" fill="#c00000"/>
<circle cx="465.4" cy="63.3" r="1.15" fill="#c00000"/>
<circle cx="468.2" cy="60" r="1.15" fill="#c00000"/>
<circle cx="471" cy="57" r="1.15" fill="#c00000"/>
<circle cx="474.5" cy="53.6" r="1.15" fill="#c00000"/>
<circle cx="478.4" cy="45.7" r="1.15" fill="#c00000"/>
<circle cx="482.4" cy="39.4" r="1.15" fill="#c00000"/>
<circle cx="486.3" cy="34.6" r="1.15" fill="#c00000"/>
<circle cx="489.5" cy="32.8" r="1.15" fill="#c00000"/>
<line x1="427.8" y1="103.5" x2="437.8" y2="103.5" stroke="#7f9ad0" stroke-width="0.9"/>
<path d="M432.8 102.07l1.21 1.43l-1.21 1.43l-1.21 -1.43z" fill="#7f9ad0"/>
<text x="438.9" y="105.08" font-size="4.6" textLength="15.4" lengthAdjust="spacingAndGlyphs" stroke="#333333" stroke-width="0.15">Control</text>
<line x1="427.8" y1="109.73" x2="437.8" y2="109.73" stroke="#111111" stroke-width="0.9"/>
<path d="M432.8 108.3l1.32 2.31l-2.64 0z" fill="#111111"/>
<text x="438.9" y="111.31" font-size="4.6" textLength="9.1" lengthAdjust="spacingAndGlyphs" stroke="#333333" stroke-width="0.15">TMZ</text>
<line x1="427.8" y1="115.96" x2="437.8" y2="115.96" stroke="#c00000" stroke-width="0.9"/>
<circle cx="432.8" cy="115.96" r="1.1" fill="#c00000"/>
<text x="438.9" y="117.54" font-size="4.6" textLength="46.6" lengthAdjust="spacingAndGlyphs" stroke="#333333" stroke-width="0.15">ST101 (subtherapeutic)</text>
<line x1="427.8" y1="122.19" x2="437.8" y2="122.19" stroke="#8cc152" stroke-width="0.9"/>
<path d="M432.8 120.76l1.32 2.31l-2.64 0z" fill="#8cc152"/>
<text x="438.9" y="123.77" font-size="4.6" textLength="60" lengthAdjust="spacingAndGlyphs" stroke="#333333" stroke-width="0.15">ST101 (subtherapeutic) + TMZ</text>
<text x="1.16" y="147.6" font-size="12.5" font-weight="bold" fill="#111">E</text>
<line x1="32.5" y1="149.7" x2="32.5" y2="228" stroke="#747474" stroke-width="1"/>
<line x1="32" y1="227.5" x2="115.5" y2="227.5" stroke="#747474" stroke-width="1"/>
<text x="27.1" y="229.24" font-size="4.5" textLength="2.7" lengthAdjust="spacingAndGlyphs" stroke="#333333" stroke-width="0.12">0</text>
<text x="21.71" y="213.72" font-size="4.5" textLength="8.09" lengthAdjust="spacingAndGlyphs" stroke="#333333" stroke-width="0.12">500</text>
<text x="17.66" y="198.19" font-size="4.5" textLength="12.14" lengthAdjust="spacingAndGlyphs" stroke="#333333" stroke-width="0.12">1,000</text>
<text x="17.66" y="182.68" font-size="4.5" textLength="12.14" lengthAdjust="spacingAndGlyphs" stroke="#333333" stroke-width="0.12">1,500</text>
<text x="17.66" y="167.16" font-size="4.5" textLength="12.14" lengthAdjust="spacingAndGlyphs" stroke="#333333" stroke-width="0.12">2,000</text>
<text x="17.66" y="151.63" font-size="4.5" textLength="12.14" lengthAdjust="spacingAndGlyphs" stroke="#333333" stroke-width="0.12">2,500</text>
<text x="30.72" y="234.48" font-size="4.6" stroke="#333333" stroke-width="0.08">0</text>
<text x="42.62" y="234.48" font-size="4.6" stroke="#333333" stroke-width="0.08">10</text>
<text x="55.8" y="234.48" font-size="4.6" stroke="#333333" stroke-width="0.08">20</text>
<text x="68.98" y="234.48" font-size="4.6" stroke="#333333" stroke-width="0.08">30</text>
<text x="82.16" y="234.48" font-size="4.6" stroke="#333333" stroke-width="0.08">40</text>
<text x="95.34" y="234.48" font-size="4.6" stroke="#333333" stroke-width="0.08">50</text>
<text x="108.52" y="234.48" font-size="4.6" stroke="#333333" stroke-width="0.08">60</text>
<text x="55.3" y="152.75" font-size="5.7" textLength="14.3" lengthAdjust="spacingAndGlyphs" font-weight="bold" stroke="#333333" stroke-width="0.15">MCF7</text>
<text x="76" y="224.92" font-size="4.7" textLength="42" lengthAdjust="spacingAndGlyphs" fill="#555555" stroke="#555555" stroke-width="0.08"><tspan font-style="italic">P</tspan> &lt; 0.0001 vs. vehicle</text>
<text x="42.5" y="240.31" font-size="5.15" textLength="63.8" lengthAdjust="spacingAndGlyphs" stroke="#333333" stroke-width="0.15">Days post tumor inoculation</text>
<text x="-30.5" y="1.8" font-size="5" textLength="61" lengthAdjust="spacingAndGlyphs" stroke="#333333" stroke-width="0.1" transform="translate(10.8 188.5) rotate(-90)">Mean tumor volume (mm<tspan font-size="0.6em" dy="-1.7">3</tspan><tspan dy="1.7">)</tspan></text>
<path d="M35 221.5V223.5M34 221.5h2M34 223.5h2" stroke="#8c8c8c" stroke-width="0.55" fill="none"/>
<path d="M38.5 219V221M37.5 219h2M37.5 221h2" stroke="#8c8c8c" stroke-width="0.55" fill="none"/>
<path d="M42.5 218.5V220.5M41.5 218.5h2M41.5 220.5h2" stroke="#8c8c8c" stroke-width="0.55" fill="none"/>
<path d="M45 217.8V219.8M44 217.8h2M44 219.8h2" stroke="#8c8c8c" stroke-width="0.55" fill="none"/>
<path d="M50 214.5V216.5M49 214.5h2M49 216.5h2" stroke="#8c8c8c" stroke-width="0.55" fill="none"/>
<path d="M53.8 212.8V214.8M52.8 212.8h2M52.8 214.8h2" stroke="#8c8c8c" stroke-width="0.55" fill="none"/>
<path d="M57 211.2V213.2M56 211.2h2M56 213.2h2" stroke="#8c8c8c" stroke-width="0.55" fill="none"/>
<path d="M60.5 210V212M59.5 210h2M59.5 212h2" stroke="#8c8c8c" stroke-width="0.55" fill="none"/>
<path d="M63.8 208.8V210.8M62.8 208.8h2M62.8 210.8h2" stroke="#8c8c8c" stroke-width="0.55" fill="none"/>
<path d="M67 206.5V208.5M66 206.5h2M66 208.5h2" stroke="#8c8c8c" stroke-width="0.55" fill="none"/>
<path d="M69.5 204.8V206.8M68.5 204.8h2M68.5 206.8h2" stroke="#8c8c8c" stroke-width="0.55" fill="none"/>
<path d="M72 203.8V205.8M71 203.8h2M71 205.8h2" stroke="#8c8c8c" stroke-width="0.55" fill="none"/>
<path d="M76.2 202.3V204.3M75.2 202.3h2M75.2 204.3h2" stroke="#8c8c8c" stroke-width="0.55" fill="none"/>
<path d="M78 202V204M77 202h2M77 204h2" stroke="#8c8c8c" stroke-width="0.55" fill="none"/>
<path d="M94.5 196.7V204.3M93.5 196.7h2M93.5 204.3h2" stroke="#8c8c8c" stroke-width="0.55" fill="none"/>
<path d="M95.8 193.7V201.3M94.8 193.7h2M94.8 201.3h2" stroke="#8c8c8c" stroke-width="0.55" fill="none"/>
<path d="M97.5 186.2V193.8M96.5 186.2h2M96.5 193.8h2" stroke="#8c8c8c" stroke-width="0.55" fill="none"/>
<path d="M98.8 178.7V186.3M97.8 178.7h2M97.8 186.3h2" stroke="#8c8c8c" stroke-width="0.55" fill="none"/>
<path d="M101.3 175V182.6M100.3 175h2M100.3 182.6h2" stroke="#8c8c8c" stroke-width="0.55" fill="none"/>
<path d="M103.8 170V177.6M102.8 170h2M102.8 177.6h2" stroke="#8c8c8c" stroke-width="0.55" fill="none"/>
<path d="M106.3 166.2V173.8M105.3 166.2h2M105.3 173.8h2" stroke="#8c8c8c" stroke-width="0.55" fill="none"/>
<path d="M108.8 165V172.6M107.8 165h2M107.8 172.6h2" stroke="#8c8c8c" stroke-width="0.55" fill="none"/>
<path d="M114.5 162.4V170M113.5 162.4h2M113.5 170h2" stroke="#8c8c8c" stroke-width="0.55" fill="none"/>
<path d="M35 222.6V224.4M34 222.6h2M34 224.4h2" stroke="#8c8c8c" stroke-width="0.55" fill="none"/>
<path d="M38.5 224.1V225.9M37.5 224.1h2M37.5 225.9h2" stroke="#8c8c8c" stroke-width="0.55" fill="none"/>
<path d="M42.5 223.6V225.4M41.5 223.6h2M41.5 225.4h2" stroke="#8c8c8c" stroke-width="0.55" fill="none"/>
<path d="M45 222.9V224.7M44 222.9h2M44 224.7h2" stroke="#8c8c8c" stroke-width="0.55" fill="none"/>
<path d="M50 221.6V223.4M49 221.6h2M49 223.4h2" stroke="#8c8c8c" stroke-width="0.55" fill="none"/>
<path d="M53.8 221.1V222.9M52.8 221.1h2M52.8 222.9h2" stroke="#8c8c8c" stroke-width="0.55" fill="none"/>
<path d="M57.5 220.3V222.1M56.5 220.3h2M56.5 222.1h2" stroke="#8c8c8c" stroke-width="0.55" fill="none"/>
<path d="M61 219.6V221.4M60 219.6h2M60 221.4h2" stroke="#8c8c8c" stroke-width="0.55" fill="none"/>
<path d="M64 219.1V220.9M63 219.1h2M63 220.9h2" stroke="#8c8c8c" stroke-width="0.55" fill="none"/>
<path d="M67 218.6V220.4M66 218.6h2M66 220.4h2" stroke="#8c8c8c" stroke-width="0.55" fill="none"/>
<path d="M70 217.9V219.7M69 217.9h2M69 219.7h2" stroke="#8c8c8c" stroke-width="0.55" fill="none"/>
<path d="M73 216.6V218.4M72 216.6h2M72 218.4h2" stroke="#8c8c8c" stroke-width="0.55" fill="none"/>
<path d="M76 217.1V218.9M75 217.1h2M75 218.9h2" stroke="#8c8c8c" stroke-width="0.55" fill="none"/>
<path d="M78 217.1V218.9M77 217.1h2M77 218.9h2" stroke="#8c8c8c" stroke-width="0.55" fill="none"/>
<path d="M94.5 212.5V220.1M93.5 212.5h2M93.5 220.1h2" stroke="#8c8c8c" stroke-width="0.55" fill="none"/>
<path d="M97.5 207.5V215.1M96.5 207.5h2M96.5 215.1h2" stroke="#8c8c8c" stroke-width="0.55" fill="none"/>
<path d="M100 206.7V214.3M99 206.7h2M99 214.3h2" stroke="#8c8c8c" stroke-width="0.55" fill="none"/>
<path d="M103.5 205.7V213.3M102.5 205.7h2M102.5 213.3h2" stroke="#8c8c8c" stroke-width="0.55" fill="none"/>
<path d="M106 203.7V211.3M105 203.7h2M105 211.3h2" stroke="#8c8c8c" stroke-width="0.55" fill="none"/>
<path d="M108.5 201.2V208.8M107.5 201.2h2M107.5 208.8h2" stroke="#8c8c8c" stroke-width="0.55" fill="none"/>
<path d="M114 200V207.6M113 200h2M113 207.6h2" stroke="#8c8c8c" stroke-width="0.55" fill="none"/>
<polyline points="35,222.5 38.5,220 42.5,219.5 45,218.8 50,215.5 53.8,213.8 57,212.2 60.5,211 63.8,209.8 67,207.5 69.5,205.8 72,204.8 76.2,203.3 78,203 94.5,200.5 95.8,197.5 97.5,190 98.8,182.5 101.3,178.8 103.8,173.8 106.3,170 108.8,168.8 114.5,166.2" fill="none" stroke="#5b86cc" stroke-width="1.1" stroke-linejoin="round"/>
<path d="M35 220.88l1.38 1.62l-1.38 1.62l-1.38 -1.62z" fill="#3a5ea8"/>
<path d="M38.5 218.38l1.38 1.62l-1.38 1.62l-1.38 -1.62z" fill="#3a5ea8"/>
<path d="M42.5 217.88l1.38 1.62l-1.38 1.62l-1.38 -1.62z" fill="#3a5ea8"/>
<path d="M45 217.18l1.38 1.62l-1.38 1.62l-1.38 -1.62z" fill="#3a5ea8"/>
<path d="M50 213.88l1.38 1.62l-1.38 1.62l-1.38 -1.62z" fill="#3a5ea8"/>
<path d="M53.8 212.18l1.38 1.62l-1.38 1.62l-1.38 -1.62z" fill="#3a5ea8"/>
<path d="M57 210.57l1.38 1.62l-1.38 1.62l-1.38 -1.62z" fill="#3a5ea8"/>
<path d="M60.5 209.38l1.38 1.62l-1.38 1.62l-1.38 -1.62z" fill="#3a5ea8"/>
<path d="M63.8 208.18l1.38 1.62l-1.38 1.62l-1.38 -1.62z" fill="#3a5ea8"/>
<path d="M67 205.88l1.38 1.62l-1.38 1.62l-1.38 -1.62z" fill="#3a5ea8"/>
<path d="M69.5 204.18l1.38 1.62l-1.38 1.62l-1.38 -1.62z" fill="#3a5ea8"/>
<path d="M72 203.18l1.38 1.62l-1.38 1.62l-1.38 -1.62z" fill="#3a5ea8"/>
<path d="M76.2 201.68l1.38 1.62l-1.38 1.62l-1.38 -1.62z" fill="#3a5ea8"/>
<path d="M78 201.38l1.38 1.62l-1.38 1.62l-1.38 -1.62z" fill="#3a5ea8"/>
<path d="M94.5 198.88l1.38 1.62l-1.38 1.62l-1.38 -1.62z" fill="#3a5ea8"/>
<path d="M95.8 195.88l1.38 1.62l-1.38 1.62l-1.38 -1.62z" fill="#3a5ea8"/>
<path d="M97.5 188.38l1.38 1.62l-1.38 1.62l-1.38 -1.62z" fill="#3a5ea8"/>
<path d="M98.8 180.88l1.38 1.62l-1.38 1.62l-1.38 -1.62z" fill="#3a5ea8"/>
<path d="M101.3 177.18l1.38 1.62l-1.38 1.62l-1.38 -1.62z" fill="#3a5ea8"/>
<path d="M103.8 172.18l1.38 1.62l-1.38 1.62l-1.38 -1.62z" fill="#3a5ea8"/>
<path d="M106.3 168.38l1.38 1.62l-1.38 1.62l-1.38 -1.62z" fill="#3a5ea8"/>
<path d="M108.8 167.18l1.38 1.62l-1.38 1.62l-1.38 -1.62z" fill="#3a5ea8"/>
<path d="M114.5 164.57l1.38 1.62l-1.38 1.62l-1.38 -1.62z" fill="#3a5ea8"/>
<polyline points="35,223.5 38.5,225 42.5,224.5 45,223.8 50,222.5 53.8,222 57.5,221.2 61,220.5 64,220 67,219.5 70,218.8 73,217.5 76,218 78,218 94.5,216.3 97.5,211.3 100,210.5 103.5,209.5 106,207.5 108.5,205 114,203.8" fill="none" stroke="#c00000" stroke-width="1.4" stroke-linejoin="round"/>
<circle cx="35" cy="223.5" r="1.25" fill="#c00000"/>
<circle cx="38.5" cy="225" r="1.25" fill="#c00000"/>
<circle cx="42.5" cy="224.5" r="1.25" fill="#c00000"/>
<circle cx="45" cy="223.8" r="1.25" fill="#c00000"/>
<circle cx="50" cy="222.5" r="1.25" fill="#c00000"/>
<circle cx="53.8" cy="222" r="1.25" fill="#c00000"/>
<circle cx="57.5" cy="221.2" r="1.25" fill="#c00000"/>
<circle cx="61" cy="220.5" r="1.25" fill="#c00000"/>
<circle cx="64" cy="220" r="1.25" fill="#c00000"/>
<circle cx="67" cy="219.5" r="1.25" fill="#c00000"/>
<circle cx="70" cy="218.8" r="1.25" fill="#c00000"/>
<circle cx="73" cy="217.5" r="1.25" fill="#c00000"/>
<circle cx="76" cy="218" r="1.25" fill="#c00000"/>
<circle cx="78" cy="218" r="1.25" fill="#c00000"/>
<circle cx="94.5" cy="216.3" r="1.25" fill="#c00000"/>
<circle cx="97.5" cy="211.3" r="1.25" fill="#c00000"/>
<circle cx="100" cy="210.5" r="1.25" fill="#c00000"/>
<circle cx="103.5" cy="209.5" r="1.25" fill="#c00000"/>
<circle cx="106" cy="207.5" r="1.25" fill="#c00000"/>
<circle cx="108.5" cy="205" r="1.25" fill="#c00000"/>
<circle cx="114" cy="203.8" r="1.25" fill="#c00000"/>
<line x1="34.5" y1="249" x2="44.9" y2="249" stroke="#6f8fd0" stroke-width="0.9"/>
<path d="M39.7 247.7l1.1 1.3l-1.1 1.3l-1.1 -1.3z" fill="#6f8fd0"/>
<text x="45.3" y="251.11" font-size="4.9" textLength="16.7" lengthAdjust="spacingAndGlyphs" stroke="#333333" stroke-width="0.15">Vehicle</text>
<line x1="67" y1="249" x2="77" y2="249" stroke="#c00000" stroke-width="0.9"/>
<circle cx="72" cy="249" r="1.05" fill="#c00000"/>
<text x="78.4" y="251.11" font-size="4.9" textLength="13.2" lengthAdjust="spacingAndGlyphs" stroke="#333333" stroke-width="0.15">ST101</text>
<text x="134.76" y="147.6" font-size="12.5" font-weight="bold" fill="#111">F</text>
<line x1="162.5" y1="149.4" x2="162.5" y2="228" stroke="#747474" stroke-width="1"/>
<line x1="162" y1="227.5" x2="254.2" y2="227.5" stroke="#747474" stroke-width="1"/>
<text x="156.41" y="229.44" font-size="4.5" textLength="2.59" lengthAdjust="spacingAndGlyphs" stroke="#333333" stroke-width="0.12">0</text>
<text x="151.24" y="213.81" font-size="4.5" textLength="7.76" lengthAdjust="spacingAndGlyphs" stroke="#333333" stroke-width="0.12">500</text>
<text x="147.36" y="198.19" font-size="4.5" textLength="11.64" lengthAdjust="spacingAndGlyphs" stroke="#333333" stroke-width="0.12">1,000</text>
<text x="147.36" y="182.57" font-size="4.5" textLength="11.64" lengthAdjust="spacingAndGlyphs" stroke="#333333" stroke-width="0.12">1,500</text>
<text x="147.36" y="166.96" font-size="4.5" textLength="11.64" lengthAdjust="spacingAndGlyphs" stroke="#333333" stroke-width="0.12">2,000</text>
<text x="147.36" y="151.34" font-size="4.5" textLength="11.64" lengthAdjust="spacingAndGlyphs" stroke="#333333" stroke-width="0.12">2,500</text>
<text x="161.42" y="234.48" font-size="4.6" stroke="#333333" stroke-width="0.08">0</text>
<text x="180.99" y="234.48" font-size="4.6" stroke="#333333" stroke-width="0.08">10</text>
<text x="201.84" y="234.48" font-size="4.6" stroke="#333333" stroke-width="0.08">20</text>
<text x="222.69" y="234.48" font-size="4.6" stroke="#333333" stroke-width="0.08">30</text>
<text x="243.54" y="234.48" font-size="4.6" stroke="#333333" stroke-width="0.08">40</text>
<text x="191.8" y="152.75" font-size="5.7" textLength="13.5" lengthAdjust="spacingAndGlyphs" font-weight="bold" stroke="#333333" stroke-width="0.15">A375</text>
<text x="215" y="224.52" font-size="4.7" textLength="41.3" lengthAdjust="spacingAndGlyphs" fill="#555555" stroke="#555555" stroke-width="0.08"><tspan font-style="italic">P</tspan> &lt; 0.05 vs. vehicle</text>
<text x="174.8" y="240.31" font-size="5.15" textLength="63.8" lengthAdjust="spacingAndGlyphs" stroke="#333333" stroke-width="0.15">Days post tumor inoculation</text>
<text x="-30.2" y="1.8" font-size="5" textLength="60.4" lengthAdjust="spacingAndGlyphs" stroke="#333333" stroke-width="0.1" transform="translate(140.8 187.9) rotate(-90)">Mean tumor volume (mm<tspan font-size="0.6em" dy="-1.7">3</tspan><tspan dy="1.7">)</tspan></text>
<path d="M165.75 224.2V225.8M164.75 224.2h2M164.75 225.8h2" stroke="#8c8c8c" stroke-width="0.55" fill="none"/>
<path d="M170 224V225.6M169 224h2M169 225.6h2" stroke="#8c8c8c" stroke-width="0.55" fill="none"/>
<path d="M176 224.2V225.8M175 224.2h2M175 225.8h2" stroke="#8c8c8c" stroke-width="0.55" fill="none"/>
<path d="M180 224V225.6M179 224h2M179 225.6h2" stroke="#8c8c8c" stroke-width="0.55" fill="none"/>
<path d="M185 223.7V225.3M184 223.7h2M184 225.3h2" stroke="#8c8c8c" stroke-width="0.55" fill="none"/>
<path d="M190.5 223.2V224.8M189.5 223.2h2M189.5 224.8h2" stroke="#8c8c8c" stroke-width="0.55" fill="none"/>
<path d="M195.8 222.4V224M194.8 222.4h2M194.8 224h2" stroke="#8c8c8c" stroke-width="0.55" fill="none"/>
<path d="M199.8 216.46V219.54M198.8 216.46h2M198.8 219.54h2" stroke="#8c8c8c" stroke-width="0.55" fill="none"/>
<path d="M205.8 206.7V213.3M204.8 206.7h2M204.8 213.3h2" stroke="#8c8c8c" stroke-width="0.55" fill="none"/>
<path d="M210.8 199.99V209.01M209.8 199.99h2M209.8 209.01h2" stroke="#8c8c8c" stroke-width="0.55" fill="none"/>
<path d="M215 194.5V205.5M214 194.5h2M214 205.5h2" stroke="#8c8c8c" stroke-width="0.55" fill="none"/>
<path d="M220.8 189.86V202.54M219.8 189.86h2M219.8 202.54h2" stroke="#8c8c8c" stroke-width="0.55" fill="none"/>
<path d="M225 183.76V198.64M224 183.76h2M224 198.64h2" stroke="#8c8c8c" stroke-width="0.55" fill="none"/>
<path d="M229.5 170.1V189.9M228.5 170.1h2M228.5 189.9h2" stroke="#8c8c8c" stroke-width="0.55" fill="none"/>
<path d="M235.5 159.36V183.04M234.5 159.36h2M234.5 183.04h2" stroke="#8c8c8c" stroke-width="0.55" fill="none"/>
<path d="M165.75 224.2V225.8M164.75 224.2h2M164.75 225.8h2" stroke="#8c8c8c" stroke-width="0.55" fill="none"/>
<path d="M170 223.7V225.3M169 223.7h2M169 225.3h2" stroke="#8c8c8c" stroke-width="0.55" fill="none"/>
<path d="M176 224.7V226.3M175 224.7h2M175 226.3h2" stroke="#8c8c8c" stroke-width="0.55" fill="none"/>
<path d="M180 224.7V226.3M179 224.7h2M179 226.3h2" stroke="#8c8c8c" stroke-width="0.55" fill="none"/>
<path d="M185 224.7V226.3M184 224.7h2M184 226.3h2" stroke="#8c8c8c" stroke-width="0.55" fill="none"/>
<path d="M190 224.4V226M189 224.4h2M189 226h2" stroke="#8c8c8c" stroke-width="0.55" fill="none"/>
<path d="M195 223.7V225.3M194 223.7h2M194 225.3h2" stroke="#8c8c8c" stroke-width="0.55" fill="none"/>
<path d="M200 222.4V224M199 222.4h2M199 224h2" stroke="#8c8c8c" stroke-width="0.55" fill="none"/>
<path d="M206.2 219.4V221.6M205.2 219.4h2M205.2 221.6h2" stroke="#8c8c8c" stroke-width="0.55" fill="none"/>
<path d="M211.2 214.15V218.25M210.2 214.15h2M210.2 218.25h2" stroke="#8c8c8c" stroke-width="0.55" fill="none"/>
<path d="M215.7 212.69V217.31M214.7 212.69h2M214.7 217.31h2" stroke="#8c8c8c" stroke-width="0.55" fill="none"/>
<path d="M221.2 211.71V216.69M220.2 211.71h2M220.2 216.69h2" stroke="#8c8c8c" stroke-width="0.55" fill="none"/>
<path d="M226.2 205V212.4M225.2 205h2M225.2 212.4h2" stroke="#8c8c8c" stroke-width="0.55" fill="none"/>
<path d="M230.5 198.9V208.5M229.5 198.9h2M229.5 208.5h2" stroke="#8c8c8c" stroke-width="0.55" fill="none"/>
<path d="M236.2 192.8V204.6M235.2 192.8h2M235.2 204.6h2" stroke="#8c8c8c" stroke-width="0.55" fill="none"/>
<path d="M240.3 189.75V202.65M239.3 189.75h2M239.3 202.65h2" stroke="#8c8c8c" stroke-width="0.55" fill="none"/>
<path d="M243.8 176.09V193.91M242.8 176.09h2M242.8 193.91h2" stroke="#8c8c8c" stroke-width="0.55" fill="none"/>
<path d="M250 171.45V190.95M249 171.45h2M249 190.95h2" stroke="#8c8c8c" stroke-width="0.55" fill="none"/>
<polyline points="165.75,225 170,224.8 176,225 180,224.8 185,224.5 190.5,224 195.8,223.2 199.8,218 205.8,210 210.8,204.5 215,200 220.8,196.2 225,191.2 229.5,180 235.5,171.2" fill="none" stroke="#5b86cc" stroke-width="1.1" stroke-linejoin="round"/>
<path d="M165.75 223.38l1.38 1.62l-1.38 1.62l-1.38 -1.62z" fill="#3a5ea8"/>
<path d="M170 223.18l1.38 1.62l-1.38 1.62l-1.38 -1.62z" fill="#3a5ea8"/>
<path d="M176 223.38l1.38 1.62l-1.38 1.62l-1.38 -1.62z" fill="#3a5ea8"/>
<path d="M180 223.18l1.38 1.62l-1.38 1.62l-1.38 -1.62z" fill="#3a5ea8"/>
<path d="M185 222.88l1.38 1.62l-1.38 1.62l-1.38 -1.62z" fill="#3a5ea8"/>
<path d="M190.5 222.38l1.38 1.62l-1.38 1.62l-1.38 -1.62z" fill="#3a5ea8"/>
<path d="M195.8 221.57l1.38 1.62l-1.38 1.62l-1.38 -1.62z" fill="#3a5ea8"/>
<path d="M199.8 216.38l1.38 1.62l-1.38 1.62l-1.38 -1.62z" fill="#3a5ea8"/>
<path d="M205.8 208.38l1.38 1.62l-1.38 1.62l-1.38 -1.62z" fill="#3a5ea8"/>
<path d="M210.8 202.88l1.38 1.62l-1.38 1.62l-1.38 -1.62z" fill="#3a5ea8"/>
<path d="M215 198.38l1.38 1.62l-1.38 1.62l-1.38 -1.62z" fill="#3a5ea8"/>
<path d="M220.8 194.57l1.38 1.62l-1.38 1.62l-1.38 -1.62z" fill="#3a5ea8"/>
<path d="M225 189.57l1.38 1.62l-1.38 1.62l-1.38 -1.62z" fill="#3a5ea8"/>
<path d="M229.5 178.38l1.38 1.62l-1.38 1.62l-1.38 -1.62z" fill="#3a5ea8"/>
<path d="M235.5 169.57l1.38 1.62l-1.38 1.62l-1.38 -1.62z" fill="#3a5ea8"/>
<polyline points="165.75,225 170,224.5 176,225.5 180,225.5 185,225.5 190,225.2 195,224.5 200,223.2 206.2,220.5 211.2,216.2 215.7,215 221.2,214.2 226.2,208.7 230.5,203.7 236.2,198.7 240.3,196.2 243.8,185 250,181.2" fill="none" stroke="#c00000" stroke-width="1.4" stroke-linejoin="round"/>
<circle cx="165.75" cy="225" r="1.25" fill="#c00000"/>
<circle cx="170" cy="224.5" r="1.25" fill="#c00000"/>
<circle cx="176" cy="225.5" r="1.25" fill="#c00000"/>
<circle cx="180" cy="225.5" r="1.25" fill="#c00000"/>
<circle cx="185" cy="225.5" r="1.25" fill="#c00000"/>
<circle cx="190" cy="225.2" r="1.25" fill="#c00000"/>
<circle cx="195" cy="224.5" r="1.25" fill="#c00000"/>
<circle cx="200" cy="223.2" r="1.25" fill="#c00000"/>
<circle cx="206.2" cy="220.5" r="1.25" fill="#c00000"/>
<circle cx="211.2" cy="216.2" r="1.25" fill="#c00000"/>
<circle cx="215.7" cy="215" r="1.25" fill="#c00000"/>
<circle cx="221.2" cy="214.2" r="1.25" fill="#c00000"/>
<circle cx="226.2" cy="208.7" r="1.25" fill="#c00000"/>
<circle cx="230.5" cy="203.7" r="1.25" fill="#c00000"/>
<circle cx="236.2" cy="198.7" r="1.25" fill="#c00000"/>
<circle cx="240.3" cy="196.2" r="1.25" fill="#c00000"/>
<circle cx="243.8" cy="185" r="1.25" fill="#c00000"/>
<circle cx="250" cy="181.2" r="1.25" fill="#c00000"/>
<line x1="170.5" y1="249.8" x2="181.6" y2="249.8" stroke="#6f8fd0" stroke-width="0.9"/>
<path d="M176.05 248.5l1.1 1.3l-1.1 1.3l-1.1 -1.3z" fill="#6f8fd0"/>
<text x="182" y="251.91" font-size="4.9" textLength="16" lengthAdjust="spacingAndGlyphs" stroke="#333333" stroke-width="0.15">Vehicle</text>
<line x1="203" y1="249.8" x2="213.3" y2="249.8" stroke="#c00000" stroke-width="0.9"/>
<circle cx="208.15" cy="249.8" r="1.05" fill="#c00000"/>
<text x="214.7" y="251.91" font-size="4.9" textLength="13" lengthAdjust="spacingAndGlyphs" stroke="#333333" stroke-width="0.15">ST101</text>
<text x="268.79" y="147.6" font-size="12.5" font-weight="bold" fill="#111">G</text>
<line x1="297.5" y1="149.4" x2="297.5" y2="222" stroke="#747474" stroke-width="1"/>
<line x1="297" y1="221.5" x2="382.6" y2="221.5" stroke="#747474" stroke-width="1"/>
<text x="292.09" y="223.13" font-size="4.5" textLength="2.61" lengthAdjust="spacingAndGlyphs" stroke="#333333" stroke-width="0.12">0</text>
<text x="286.86" y="212.88" font-size="4.5" textLength="7.84" lengthAdjust="spacingAndGlyphs" stroke="#333333" stroke-width="0.12">200</text>
<text x="286.86" y="202.62" font-size="4.5" textLength="7.84" lengthAdjust="spacingAndGlyphs" stroke="#333333" stroke-width="0.12">400</text>
<text x="286.86" y="192.36" font-size="4.5" textLength="7.84" lengthAdjust="spacingAndGlyphs" stroke="#333333" stroke-width="0.12">600</text>
<text x="286.86" y="182.11" font-size="4.5" textLength="7.84" lengthAdjust="spacingAndGlyphs" stroke="#333333" stroke-width="0.12">800</text>
<text x="282.94" y="171.85" font-size="4.5" textLength="11.76" lengthAdjust="spacingAndGlyphs" stroke="#333333" stroke-width="0.12">1,000</text>
<text x="282.94" y="161.59" font-size="4.5" textLength="11.76" lengthAdjust="spacingAndGlyphs" stroke="#333333" stroke-width="0.12">1,200</text>
<text x="282.94" y="151.34" font-size="4.5" textLength="11.76" lengthAdjust="spacingAndGlyphs" stroke="#333333" stroke-width="0.12">1,400</text>
<text x="296.22" y="227.98" font-size="4.6" stroke="#333333" stroke-width="0.08">0</text>
<text x="315.69" y="227.98" font-size="4.6" stroke="#333333" stroke-width="0.08">10</text>
<text x="336.44" y="227.98" font-size="4.6" stroke="#333333" stroke-width="0.08">20</text>
<text x="357.19" y="227.98" font-size="4.6" stroke="#333333" stroke-width="0.08">30</text>
<text x="377.94" y="227.98" font-size="4.6" stroke="#333333" stroke-width="0.08">40</text>
<text x="319.5" y="152.75" font-size="5.7" textLength="17.8" lengthAdjust="spacingAndGlyphs" font-weight="bold" stroke="#333333" stroke-width="0.15">DU145</text>
<text x="338.7" y="219.52" font-size="4.7" textLength="42.5" lengthAdjust="spacingAndGlyphs" fill="#555555" stroke="#555555" stroke-width="0.08"><tspan font-style="italic">P</tspan> &lt; 0.01 vs. vehicle</text>
<text x="310.3" y="237.01" font-size="5.15" textLength="62.7" lengthAdjust="spacingAndGlyphs" stroke="#333333" stroke-width="0.15">Days post tumor inoculation</text>
<text x="-29.8" y="1.8" font-size="5" textLength="59.6" lengthAdjust="spacingAndGlyphs" stroke="#333333" stroke-width="0.1" transform="translate(276.4 185.7) rotate(-90)">Mean tumor volume (mm<tspan font-size="0.6em" dy="-1.7">3</tspan><tspan dy="1.7">)</tspan></text>
<path d="M307.5 207.7V209.7M306.5 207.7h2M306.5 209.7h2" stroke="#8c8c8c" stroke-width="0.55" fill="none"/>
<path d="M312 206.2V208.2M311 206.2h2M311 208.2h2" stroke="#8c8c8c" stroke-width="0.55" fill="none"/>
<path d="M318 201.5V204.5M317 201.5h2M317 204.5h2" stroke="#8c8c8c" stroke-width="0.55" fill="none"/>
<path d="M323 196.2V201.2M322 196.2h2M322 201.2h2" stroke="#8c8c8c" stroke-width="0.55" fill="none"/>
<path d="M327 190.3V199.3M326 190.3h2M326 199.3h2" stroke="#8c8c8c" stroke-width="0.55" fill="none"/>
<path d="M341.2 189.3V204.3M340.2 189.3h2M340.2 204.3h2" stroke="#8c8c8c" stroke-width="0.55" fill="none"/>
<path d="M347.5 186.5V198.5M346.5 186.5h2M346.5 198.5h2" stroke="#8c8c8c" stroke-width="0.55" fill="none"/>
<path d="M352 181V194M351 181h2M351 194h2" stroke="#8c8c8c" stroke-width="0.55" fill="none"/>
<path d="M356.2 177.5V191.5M355.2 177.5h2M355.2 191.5h2" stroke="#8c8c8c" stroke-width="0.55" fill="none"/>
<path d="M362.5 170.5V188.5M361.5 170.5h2M361.5 188.5h2" stroke="#8c8c8c" stroke-width="0.55" fill="none"/>
<path d="M366.2 170V186M365.2 170h2M365.2 186h2" stroke="#8c8c8c" stroke-width="0.55" fill="none"/>
<path d="M371.2 168.2V184.2M370.2 168.2h2M370.2 184.2h2" stroke="#8c8c8c" stroke-width="0.55" fill="none"/>
<path d="M377 161.2V181.2M376 161.2h2M376 181.2h2" stroke="#8c8c8c" stroke-width="0.55" fill="none"/>
<path d="M307.5 208.5V210.1M306.5 208.5h2M306.5 210.1h2" stroke="#8c8c8c" stroke-width="0.55" fill="none"/>
<path d="M312 207.2V208.8M311 207.2h2M311 208.8h2" stroke="#8c8c8c" stroke-width="0.55" fill="none"/>
<path d="M318 205.7V207.3M317 205.7h2M317 207.3h2" stroke="#8c8c8c" stroke-width="0.55" fill="none"/>
<path d="M323 205.4V207M322 205.4h2M322 207h2" stroke="#8c8c8c" stroke-width="0.55" fill="none"/>
<path d="M327 206.2V207.8M326 206.2h2M326 207.8h2" stroke="#8c8c8c" stroke-width="0.55" fill="none"/>
<path d="M332.5 206.7V208.3M331.5 206.7h2M331.5 208.3h2" stroke="#8c8c8c" stroke-width="0.55" fill="none"/>
<path d="M337 209.4V211M336 209.4h2M336 211h2" stroke="#8c8c8c" stroke-width="0.55" fill="none"/>
<path d="M341.2 208V209.6M340.2 208h2M340.2 209.6h2" stroke="#8c8c8c" stroke-width="0.55" fill="none"/>
<path d="M347.5 205.4V207M346.5 205.4h2M346.5 207h2" stroke="#8c8c8c" stroke-width="0.55" fill="none"/>
<path d="M352 201.5V204.5M351 201.5h2M351 204.5h2" stroke="#8c8c8c" stroke-width="0.55" fill="none"/>
<path d="M356.2 200.88V204.12M355.2 200.88h2M355.2 204.12h2" stroke="#8c8c8c" stroke-width="0.55" fill="none"/>
<path d="M362.5 199.88V203.52M361.5 199.88h2M361.5 203.52h2" stroke="#8c8c8c" stroke-width="0.55" fill="none"/>
<path d="M366.2 198.62V202.77M365.2 198.62h2M365.2 202.77h2" stroke="#8c8c8c" stroke-width="0.55" fill="none"/>
<path d="M371.2 197.12V201.88M370.2 197.12h2M370.2 201.88h2" stroke="#8c8c8c" stroke-width="0.55" fill="none"/>
<path d="M377 194V200M376 194h2M376 200h2" stroke="#8c8c8c" stroke-width="0.55" fill="none"/>
<polyline points="307.5,208.7 312,207.2 318,203 323,198.7 327,194.8 341.2,196.8 347.5,192.5 352,187.5 356.2,184.5 362.5,179.5 366.2,178 371.2,176.2 377,171.2" fill="none" stroke="#5b86cc" stroke-width="1.1" stroke-linejoin="round"/>
<path d="M307.5 207.07l1.38 1.62l-1.38 1.62l-1.38 -1.62z" fill="#3a5ea8"/>
<path d="M312 205.57l1.38 1.62l-1.38 1.62l-1.38 -1.62z" fill="#3a5ea8"/>
<path d="M318 201.38l1.38 1.62l-1.38 1.62l-1.38 -1.62z" fill="#3a5ea8"/>
<path d="M323 197.07l1.38 1.62l-1.38 1.62l-1.38 -1.62z" fill="#3a5ea8"/>
<path d="M327 193.18l1.38 1.62l-1.38 1.62l-1.38 -1.62z" fill="#3a5ea8"/>
<path d="M341.2 195.18l1.38 1.62l-1.38 1.62l-1.38 -1.62z" fill="#3a5ea8"/>
<path d="M347.5 190.88l1.38 1.62l-1.38 1.62l-1.38 -1.62z" fill="#3a5ea8"/>
<path d="M352 185.88l1.38 1.62l-1.38 1.62l-1.38 -1.62z" fill="#3a5ea8"/>
<path d="M356.2 182.88l1.38 1.62l-1.38 1.62l-1.38 -1.62z" fill="#3a5ea8"/>
<path d="M362.5 177.88l1.38 1.62l-1.38 1.62l-1.38 -1.62z" fill="#3a5ea8"/>
<path d="M366.2 176.38l1.38 1.62l-1.38 1.62l-1.38 -1.62z" fill="#3a5ea8"/>
<path d="M371.2 174.57l1.38 1.62l-1.38 1.62l-1.38 -1.62z" fill="#3a5ea8"/>
<path d="M377 169.57l1.38 1.62l-1.38 1.62l-1.38 -1.62z" fill="#3a5ea8"/>
<polyline points="307.5,209.3 312,208 318,206.5 323,206.2 327,207 332.5,207.5 337,210.2 341.2,208.8 347.5,206.2 352,203 356.2,202.5 362.5,201.7 366.2,200.7 371.2,199.5 377,197" fill="none" stroke="#c00000" stroke-width="1.4" stroke-linejoin="round"/>
<circle cx="307.5" cy="209.3" r="1.25" fill="#c00000"/>
<circle cx="312" cy="208" r="1.25" fill="#c00000"/>
<circle cx="318" cy="206.5" r="1.25" fill="#c00000"/>
<circle cx="323" cy="206.2" r="1.25" fill="#c00000"/>
<circle cx="327" cy="207" r="1.25" fill="#c00000"/>
<circle cx="332.5" cy="207.5" r="1.25" fill="#c00000"/>
<circle cx="337" cy="210.2" r="1.25" fill="#c00000"/>
<circle cx="341.2" cy="208.8" r="1.25" fill="#c00000"/>
<circle cx="347.5" cy="206.2" r="1.25" fill="#c00000"/>
<circle cx="352" cy="203" r="1.25" fill="#c00000"/>
<circle cx="356.2" cy="202.5" r="1.25" fill="#c00000"/>
<circle cx="362.5" cy="201.7" r="1.25" fill="#c00000"/>
<circle cx="366.2" cy="200.7" r="1.25" fill="#c00000"/>
<circle cx="371.2" cy="199.5" r="1.25" fill="#c00000"/>
<circle cx="377" cy="197" r="1.25" fill="#c00000"/>
<line x1="296.8" y1="249.8" x2="308.3" y2="249.8" stroke="#6f8fd0" stroke-width="0.9"/>
<path d="M302.55 248.5l1.1 1.3l-1.1 1.3l-1.1 -1.3z" fill="#6f8fd0"/>
<text x="308.7" y="251.91" font-size="4.9" textLength="16" lengthAdjust="spacingAndGlyphs" stroke="#333333" stroke-width="0.15">Vehicle</text>
<line x1="330.3" y1="249.8" x2="341.2" y2="249.8" stroke="#c00000" stroke-width="0.9"/>
<circle cx="335.75" cy="249.8" r="1.05" fill="#c00000"/>
<text x="342.6" y="251.91" font-size="4.9" textLength="20" lengthAdjust="spacingAndGlyphs" stroke="#333333" stroke-width="0.15">50 mg/kg</text>
<text x="399.46" y="147.6" font-size="12.5" font-weight="bold" fill="#111">H</text>
<line x1="426.5" y1="149.5" x2="426.5" y2="222" stroke="#747474" stroke-width="1"/>
<line x1="426" y1="221.5" x2="510.2" y2="221.5" stroke="#747474" stroke-width="1"/>
<text x="421.53" y="223.13" font-size="4.5" stroke="#333333" stroke-width="0.12">0</text>
<text x="416.58" y="211.19" font-size="4.5" textLength="7.42" lengthAdjust="spacingAndGlyphs" stroke="#333333" stroke-width="0.12">200</text>
<text x="416.58" y="199.23" font-size="4.5" textLength="7.42" lengthAdjust="spacingAndGlyphs" stroke="#333333" stroke-width="0.12">400</text>
<text x="416.58" y="187.28" font-size="4.5" textLength="7.42" lengthAdjust="spacingAndGlyphs" stroke="#333333" stroke-width="0.12">600</text>
<text x="416.58" y="175.34" font-size="4.5" textLength="7.42" lengthAdjust="spacingAndGlyphs" stroke="#333333" stroke-width="0.12">800</text>
<text x="412.86" y="163.38" font-size="4.5" textLength="11.14" lengthAdjust="spacingAndGlyphs" stroke="#333333" stroke-width="0.12">1,000</text>
<text x="412.86" y="151.44" font-size="4.5" textLength="11.14" lengthAdjust="spacingAndGlyphs" stroke="#333333" stroke-width="0.12">1,200</text>
<text x="425.72" y="228.28" font-size="4.6" stroke="#333333" stroke-width="0.08">0</text>
<text x="436.19" y="228.28" font-size="4.6" stroke="#333333" stroke-width="0.08">10</text>
<text x="447.94" y="228.28" font-size="4.6" stroke="#333333" stroke-width="0.08">20</text>
<text x="459.69" y="228.28" font-size="4.6" stroke="#333333" stroke-width="0.08">30</text>
<text x="471.44" y="228.28" font-size="4.6" stroke="#333333" stroke-width="0.08">40</text>
<text x="483.19" y="228.28" font-size="4.6" stroke="#333333" stroke-width="0.08">50</text>
<text x="494.94" y="228.28" font-size="4.6" stroke="#333333" stroke-width="0.08">60</text>
<text x="506.69" y="228.28" font-size="4.6" stroke="#333333" stroke-width="0.08">70</text>
<text x="450.7" y="152.75" font-size="5.7" textLength="13.5" lengthAdjust="spacingAndGlyphs" font-weight="bold" stroke="#333333" stroke-width="0.15">A549</text>
<text x="465.5" y="219.52" font-size="4.7" textLength="44.5" lengthAdjust="spacingAndGlyphs" fill="#555555" stroke="#555555" stroke-width="0.08"><tspan font-style="italic">P</tspan> &lt; 0.001 vs. vehicle</text>
<text x="436.8" y="236.31" font-size="5.15" textLength="63.7" lengthAdjust="spacingAndGlyphs" stroke="#333333" stroke-width="0.15">Days post tumor inoculation</text>
<text x="-30.4" y="1.8" font-size="5" textLength="60.8" lengthAdjust="spacingAndGlyphs" stroke="#333333" stroke-width="0.1" transform="translate(405.6 186.3) rotate(-90)">Mean tumor volume (mm<tspan font-size="0.6em" dy="-1.7">3</tspan><tspan dy="1.7">)</tspan></text>
<path d="M428.6 205.19V207.41M427.6 205.19h2M427.6 207.41h2" stroke="#8c8c8c" stroke-width="0.55" fill="none"/>
<path d="M431.3 199.86V204.54M430.3 199.86h2M430.3 204.54h2" stroke="#8c8c8c" stroke-width="0.55" fill="none"/>
<path d="M433.8 201.03V205.17M432.8 201.03h2M432.8 205.17h2" stroke="#8c8c8c" stroke-width="0.55" fill="none"/>
<path d="M437.3 201.94V205.66M436.3 201.94h2M436.3 205.66h2" stroke="#8c8c8c" stroke-width="0.55" fill="none"/>
<path d="M440.7 203.76V206.64M439.7 203.76h2M439.7 206.64h2" stroke="#8c8c8c" stroke-width="0.55" fill="none"/>
<path d="M444.2 206.4V208.2M443.2 206.4h2M443.2 208.2h2" stroke="#8c8c8c" stroke-width="0.55" fill="none"/>
<path d="M447.7 208.6V210.4M446.7 208.6h2M446.7 210.4h2" stroke="#8c8c8c" stroke-width="0.55" fill="none"/>
<path d="M451.8 209.1V210.9M450.8 209.1h2M450.8 210.9h2" stroke="#8c8c8c" stroke-width="0.55" fill="none"/>
<path d="M456 207.8V209.6M455 207.8h2M455 209.6h2" stroke="#8c8c8c" stroke-width="0.55" fill="none"/>
<path d="M459.4 206.6V208.4M458.4 206.6h2M458.4 208.4h2" stroke="#8c8c8c" stroke-width="0.55" fill="none"/>
<path d="M464.2 204.15V206.85M463.2 204.15h2M463.2 206.85h2" stroke="#8c8c8c" stroke-width="0.55" fill="none"/>
<path d="M469.2 200.9V205.1M468.2 200.9h2M468.2 205.1h2" stroke="#8c8c8c" stroke-width="0.55" fill="none"/>
<path d="M474.2 196.35V202.65M473.2 196.35h2M473.2 202.65h2" stroke="#8c8c8c" stroke-width="0.55" fill="none"/>
<path d="M479.2 192.06V200.34M478.2 192.06h2M478.2 200.34h2" stroke="#8c8c8c" stroke-width="0.55" fill="none"/>
<path d="M484.2 185.56V196.84M483.2 185.56h2M483.2 196.84h2" stroke="#8c8c8c" stroke-width="0.55" fill="none"/>
<path d="M486.7 177.5V192.5M485.7 177.5h2M485.7 192.5h2" stroke="#8c8c8c" stroke-width="0.55" fill="none"/>
<path d="M489.2 172.56V189.84M488.2 172.56h2M488.2 189.84h2" stroke="#8c8c8c" stroke-width="0.55" fill="none"/>
<path d="M493 170.35V188.65M492 170.35h2M492 188.65h2" stroke="#8c8c8c" stroke-width="0.55" fill="none"/>
<path d="M496.7 167.75V187.25M495.7 167.75h2M495.7 187.25h2" stroke="#8c8c8c" stroke-width="0.55" fill="none"/>
<path d="M500.5 166.06V186.34M499.5 166.06h2M499.5 186.34h2" stroke="#8c8c8c" stroke-width="0.55" fill="none"/>
<path d="M504.2 161.9V184.1M503.2 161.9h2M503.2 184.1h2" stroke="#8c8c8c" stroke-width="0.55" fill="none"/>
<path d="M509.2 164.5V185.5M508.2 164.5h2M508.2 185.5h2" stroke="#8c8c8c" stroke-width="0.55" fill="none"/>
<path d="M428.6 204V206.4M427.6 204h2M427.6 206.4h2" stroke="#8c8c8c" stroke-width="0.55" fill="none"/>
<path d="M431.3 200.6V203M430.3 200.6h2M430.3 203h2" stroke="#8c8c8c" stroke-width="0.55" fill="none"/>
<path d="M433.8 207.5V209.9M432.8 207.5h2M432.8 209.9h2" stroke="#8c8c8c" stroke-width="0.55" fill="none"/>
<path d="M437.3 210.2V212.6M436.3 210.2h2M436.3 212.6h2" stroke="#8c8c8c" stroke-width="0.55" fill="none"/>
<path d="M440.7 211.6V214M439.7 211.6h2M439.7 214h2" stroke="#8c8c8c" stroke-width="0.55" fill="none"/>
<path d="M444.2 213V215.4M443.2 213h2M443.2 215.4h2" stroke="#8c8c8c" stroke-width="0.55" fill="none"/>
<path d="M447.7 214V216.4M446.7 214h2M446.7 216.4h2" stroke="#8c8c8c" stroke-width="0.55" fill="none"/>
<path d="M451.8 213.7V216.1M450.8 213.7h2M450.8 216.1h2" stroke="#8c8c8c" stroke-width="0.55" fill="none"/>
<path d="M456 212.8V215.2M455 212.8h2M455 215.2h2" stroke="#8c8c8c" stroke-width="0.55" fill="none"/>
<path d="M460.5 211.8V214.2M459.5 211.8h2M459.5 214.2h2" stroke="#8c8c8c" stroke-width="0.55" fill="none"/>
<path d="M465.5 211.3V213.7M464.5 211.3h2M464.5 213.7h2" stroke="#8c8c8c" stroke-width="0.55" fill="none"/>
<path d="M470.5 210.1V212.5M469.5 210.1h2M469.5 212.5h2" stroke="#8c8c8c" stroke-width="0.55" fill="none"/>
<path d="M474.2 210.8V213.2M473.2 210.8h2M473.2 213.2h2" stroke="#8c8c8c" stroke-width="0.55" fill="none"/>
<path d="M479.2 211.1V213.5M478.2 211.1h2M478.2 213.5h2" stroke="#8c8c8c" stroke-width="0.55" fill="none"/>
<path d="M483.7 205.5V211.5M482.7 205.5h2M482.7 211.5h2" stroke="#8c8c8c" stroke-width="0.55" fill="none"/>
<path d="M486.7 204V210M485.7 204h2M485.7 210h2" stroke="#8c8c8c" stroke-width="0.55" fill="none"/>
<path d="M489.2 203.2V209.2M488.2 203.2h2M488.2 209.2h2" stroke="#8c8c8c" stroke-width="0.55" fill="none"/>
<path d="M493 203.5V209.5M492 203.5h2M492 209.5h2" stroke="#8c8c8c" stroke-width="0.55" fill="none"/>
<path d="M496.7 204V210M495.7 204h2M495.7 210h2" stroke="#8c8c8c" stroke-width="0.55" fill="none"/>
<path d="M500.5 203.8V209.8M499.5 203.8h2M499.5 209.8h2" stroke="#8c8c8c" stroke-width="0.55" fill="none"/>
<path d="M504.2 203.8V209.8M503.2 203.8h2M503.2 209.8h2" stroke="#8c8c8c" stroke-width="0.55" fill="none"/>
<path d="M509.2 204V210M508.2 204h2M508.2 210h2" stroke="#8c8c8c" stroke-width="0.55" fill="none"/>
<polyline points="428.6,206.3 431.3,202.2 433.8,203.1 437.3,203.8 440.7,205.2 444.2,207.3 447.7,209.5 451.8,210 456,208.7 459.4,207.5 464.2,205.5 469.2,203 474.2,199.5 479.2,196.2 484.2,191.2 486.7,185 489.2,181.2 493,179.5 496.7,177.5 500.5,176.2 504.2,173 509.2,175" fill="none" stroke="#5b86cc" stroke-width="1.1" stroke-linejoin="round"/>
<path d="M428.6 204.68l1.38 1.62l-1.38 1.62l-1.38 -1.62z" fill="#3a5ea8"/>
<path d="M431.3 200.57l1.38 1.62l-1.38 1.62l-1.38 -1.62z" fill="#3a5ea8"/>
<path d="M433.8 201.47l1.38 1.62l-1.38 1.62l-1.38 -1.62z" fill="#3a5ea8"/>
<path d="M437.3 202.18l1.38 1.62l-1.38 1.62l-1.38 -1.62z" fill="#3a5ea8"/>
<path d="M440.7 203.57l1.38 1.62l-1.38 1.62l-1.38 -1.62z" fill="#3a5ea8"/>
<path d="M444.2 205.68l1.38 1.62l-1.38 1.62l-1.38 -1.62z" fill="#3a5ea8"/>
<path d="M447.7 207.88l1.38 1.62l-1.38 1.62l-1.38 -1.62z" fill="#3a5ea8"/>
<path d="M451.8 208.38l1.38 1.62l-1.38 1.62l-1.38 -1.62z" fill="#3a5ea8"/>
<path d="M456 207.07l1.38 1.62l-1.38 1.62l-1.38 -1.62z" fill="#3a5ea8"/>
<path d="M459.4 205.88l1.38 1.62l-1.38 1.62l-1.38 -1.62z" fill="#3a5ea8"/>
<path d="M464.2 203.88l1.38 1.62l-1.38 1.62l-1.38 -1.62z" fill="#3a5ea8"/>
<path d="M469.2 201.38l1.38 1.62l-1.38 1.62l-1.38 -1.62z" fill="#3a5ea8"/>
<path d="M474.2 197.88l1.38 1.62l-1.38 1.62l-1.38 -1.62z" fill="#3a5ea8"/>
<path d="M479.2 194.57l1.38 1.62l-1.38 1.62l-1.38 -1.62z" fill="#3a5ea8"/>
<path d="M484.2 189.57l1.38 1.62l-1.38 1.62l-1.38 -1.62z" fill="#3a5ea8"/>
<path d="M486.7 183.38l1.38 1.62l-1.38 1.62l-1.38 -1.62z" fill="#3a5ea8"/>
<path d="M489.2 179.57l1.38 1.62l-1.38 1.62l-1.38 -1.62z" fill="#3a5ea8"/>
<path d="M493 177.88l1.38 1.62l-1.38 1.62l-1.38 -1.62z" fill="#3a5ea8"/>
<path d="M496.7 175.88l1.38 1.62l-1.38 1.62l-1.38 -1.62z" fill="#3a5ea8"/>
<path d="M500.5 174.57l1.38 1.62l-1.38 1.62l-1.38 -1.62z" fill="#3a5ea8"/>
<path d="M504.2 171.38l1.38 1.62l-1.38 1.62l-1.38 -1.62z" fill="#3a5ea8"/>
<path d="M509.2 173.38l1.38 1.62l-1.38 1.62l-1.38 -1.62z" fill="#3a5ea8"/>
<polyline points="428.6,205.2 431.3,201.8 433.8,208.7 437.3,211.4 440.7,212.8 444.2,214.2 447.7,215.2 451.8,214.9 456,214 460.5,213 465.5,212.5 470.5,211.3 474.2,212 479.2,212.3 483.7,208.5 486.7,207 489.2,206.2 493,206.5 496.7,207 500.5,206.8 504.2,206.8 509.2,207" fill="none" stroke="#c00000" stroke-width="1.4" stroke-linejoin="round"/>
<circle cx="428.6" cy="205.2" r="1.25" fill="#c00000"/>
<circle cx="431.3" cy="201.8" r="1.25" fill="#c00000"/>
<circle cx="433.8" cy="208.7" r="1.25" fill="#c00000"/>
<circle cx="437.3" cy="211.4" r="1.25" fill="#c00000"/>
<circle cx="440.7" cy="212.8" r="1.25" fill="#c00000"/>
<circle cx="444.2" cy="214.2" r="1.25" fill="#c00000"/>
<circle cx="447.7" cy="215.2" r="1.25" fill="#c00000"/>
<circle cx="451.8" cy="214.9" r="1.25" fill="#c00000"/>
<circle cx="456" cy="214" r="1.25" fill="#c00000"/>
<circle cx="460.5" cy="213" r="1.25" fill="#c00000"/>
<circle cx="465.5" cy="212.5" r="1.25" fill="#c00000"/>
<circle cx="470.5" cy="211.3" r="1.25" fill="#c00000"/>
<circle cx="474.2" cy="212" r="1.25" fill="#c00000"/>
<circle cx="479.2" cy="212.3" r="1.25" fill="#c00000"/>
<circle cx="483.7" cy="208.5" r="1.25" fill="#c00000"/>
<circle cx="486.7" cy="207" r="1.25" fill="#c00000"/>
<circle cx="489.2" cy="206.2" r="1.25" fill="#c00000"/>
<circle cx="493" cy="206.5" r="1.25" fill="#c00000"/>
<circle cx="496.7" cy="207" r="1.25" fill="#c00000"/>
<circle cx="500.5" cy="206.8" r="1.25" fill="#c00000"/>
<circle cx="504.2" cy="206.8" r="1.25" fill="#c00000"/>
<circle cx="509.2" cy="207" r="1.25" fill="#c00000"/>
<line x1="435.6" y1="250" x2="446.8" y2="250" stroke="#6f8fd0" stroke-width="0.9"/>
<path d="M441.2 248.7l1.1 1.3l-1.1 1.3l-1.1 -1.3z" fill="#6f8fd0"/>
<text x="447.2" y="252.11" font-size="4.9" textLength="16.3" lengthAdjust="spacingAndGlyphs" stroke="#333333" stroke-width="0.15">Vehicle</text>
<line x1="468.2" y1="250" x2="478.5" y2="250" stroke="#c00000" stroke-width="0.9"/>
<circle cx="473.35" cy="250" r="1.05" fill="#c00000"/>
<text x="479.9" y="252.11" font-size="4.9" textLength="13.2" lengthAdjust="spacingAndGlyphs" stroke="#333333" stroke-width="0.15">ST101</text>
</svg>
</body></html>
